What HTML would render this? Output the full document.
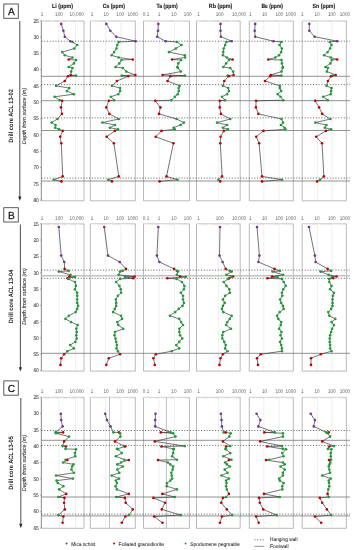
<!DOCTYPE html>
<html><head><meta charset="utf-8"><title>Drill core geochemistry</title>
<style>html,body{margin:0;padding:0;background:#fff;}body{width:355px;height:550px;overflow:hidden;}svg{display:block;text-rendering:geometricPrecision;}</style>
</head><body>
<svg width="355" height="550" viewBox="0 0 355 550" font-family="'Liberation Sans', Arial, sans-serif">
<rect width="355" height="550" fill="#fff"/>
<line x1="59" y1="20.9" x2="59" y2="200.8" stroke="#e4e4e4" stroke-width="0.6"/>
<line x1="75.6" y1="20.9" x2="75.6" y2="200.8" stroke="#e4e4e4" stroke-width="0.6"/>
<path d="M41.4,20.9 V200.8 H84 V20.9" fill="none" stroke="#a8a8a8" stroke-width="0.8"/>
<line x1="41.4" y1="20.9" x2="84" y2="20.9" stroke="#c0c0c0" stroke-width="0.7"/>
<path d="M43.96,20.9v1.1 M45.47,20.9v1.1 M46.53,20.9v1.1 M47.36,20.9v1.1 M48.03,20.9v1.1 M48.6,20.9v1.1 M49.09,20.9v1.1 M49.53,20.9v1.1 M52.48,20.9v1.1 M53.99,20.9v1.1 M55.05,20.9v1.1 M55.88,20.9v1.1 M56.55,20.9v1.1 M57.12,20.9v1.1 M57.61,20.9v1.1 M58.05,20.9v1.1 M61,20.9v1.1 M62.51,20.9v1.1 M63.57,20.9v1.1 M64.4,20.9v1.1 M65.07,20.9v1.1 M65.64,20.9v1.1 M66.13,20.9v1.1 M66.57,20.9v1.1 M69.52,20.9v1.1 M71.03,20.9v1.1 M72.09,20.9v1.1 M72.92,20.9v1.1 M73.59,20.9v1.1 M74.16,20.9v1.1 M74.65,20.9v1.1 M75.09,20.9v1.1 M78.04,20.9v1.1 M79.55,20.9v1.1 M80.61,20.9v1.1 M81.44,20.9v1.1 M82.11,20.9v1.1 M82.68,20.9v1.1 M83.17,20.9v1.1 M83.61,20.9v1.1" stroke="#c8c8c8" stroke-width="0.45" fill="none"/>
<line x1="105.6" y1="20.9" x2="105.6" y2="200.8" stroke="#e4e4e4" stroke-width="0.6"/>
<line x1="120.9" y1="20.9" x2="120.9" y2="200.8" stroke="#e4e4e4" stroke-width="0.6"/>
<path d="M90.3,20.9 V200.8 H135.3 V20.9" fill="none" stroke="#a8a8a8" stroke-width="0.8"/>
<line x1="90.3" y1="20.9" x2="135.3" y2="20.9" stroke="#c0c0c0" stroke-width="0.7"/>
<path d="M94.82,20.9v1.1 M97.46,20.9v1.1 M99.33,20.9v1.1 M100.78,20.9v1.1 M101.97,20.9v1.1 M102.98,20.9v1.1 M103.85,20.9v1.1 M104.61,20.9v1.1 M109.82,20.9v1.1 M112.46,20.9v1.1 M114.33,20.9v1.1 M115.78,20.9v1.1 M116.97,20.9v1.1 M117.98,20.9v1.1 M118.85,20.9v1.1 M119.61,20.9v1.1 M124.82,20.9v1.1 M127.46,20.9v1.1 M129.33,20.9v1.1 M130.78,20.9v1.1 M131.97,20.9v1.1 M132.98,20.9v1.1 M133.85,20.9v1.1 M134.61,20.9v1.1" stroke="#c8c8c8" stroke-width="0.45" fill="none"/>
<line x1="159" y1="20.9" x2="159" y2="200.8" stroke="#e4e4e4" stroke-width="0.6"/>
<line x1="174.4" y1="20.9" x2="174.4" y2="200.8" stroke="#e4e4e4" stroke-width="0.6"/>
<path d="M143.5,20.9 V200.8 H189.4 V20.9" fill="none" stroke="#a8a8a8" stroke-width="0.8"/>
<line x1="143.5" y1="20.9" x2="189.4" y2="20.9" stroke="#c0c0c0" stroke-width="0.7"/>
<path d="M148.11,20.9v1.1 M150.8,20.9v1.1 M152.71,20.9v1.1 M154.19,20.9v1.1 M155.41,20.9v1.1 M156.43,20.9v1.1 M157.32,20.9v1.1 M158.1,20.9v1.1 M163.41,20.9v1.1 M166.1,20.9v1.1 M168.01,20.9v1.1 M169.49,20.9v1.1 M170.71,20.9v1.1 M171.73,20.9v1.1 M172.62,20.9v1.1 M173.4,20.9v1.1 M178.71,20.9v1.1 M181.4,20.9v1.1 M183.31,20.9v1.1 M184.79,20.9v1.1 M186.01,20.9v1.1 M187.03,20.9v1.1 M187.92,20.9v1.1 M188.7,20.9v1.1" stroke="#c8c8c8" stroke-width="0.45" fill="none"/>
<line x1="218.4" y1="20.9" x2="218.4" y2="200.8" stroke="#e4e4e4" stroke-width="0.6"/>
<path d="M196.5,20.9 V200.8 H240.2 V20.9" fill="none" stroke="#a8a8a8" stroke-width="0.8"/>
<line x1="196.5" y1="20.9" x2="240.2" y2="20.9" stroke="#c0c0c0" stroke-width="0.7"/>
<path d="M199.79,20.9v1.1 M201.71,20.9v1.1 M203.08,20.9v1.1 M204.14,20.9v1.1 M205,20.9v1.1 M205.73,20.9v1.1 M206.37,20.9v1.1 M206.93,20.9v1.1 M210.71,20.9v1.1 M212.64,20.9v1.1 M214,20.9v1.1 M215.06,20.9v1.1 M215.93,20.9v1.1 M216.66,20.9v1.1 M217.29,20.9v1.1 M217.85,20.9v1.1 M221.64,20.9v1.1 M223.56,20.9v1.1 M224.93,20.9v1.1 M225.99,20.9v1.1 M226.85,20.9v1.1 M227.58,20.9v1.1 M228.22,20.9v1.1 M228.78,20.9v1.1 M232.56,20.9v1.1 M234.49,20.9v1.1 M235.85,20.9v1.1 M236.91,20.9v1.1 M237.78,20.9v1.1 M238.51,20.9v1.1 M239.14,20.9v1.1 M239.7,20.9v1.1" stroke="#c8c8c8" stroke-width="0.45" fill="none"/>
<line x1="263.8" y1="20.9" x2="263.8" y2="200.8" stroke="#e4e4e4" stroke-width="0.6"/>
<line x1="279.1" y1="20.9" x2="279.1" y2="200.8" stroke="#e4e4e4" stroke-width="0.6"/>
<path d="M249.3,20.9 V200.8 H293.3 V20.9" fill="none" stroke="#a8a8a8" stroke-width="0.8"/>
<line x1="249.3" y1="20.9" x2="293.3" y2="20.9" stroke="#c0c0c0" stroke-width="0.7"/>
<path d="M253.72,20.9v1.1 M256.3,20.9v1.1 M258.13,20.9v1.1 M259.55,20.9v1.1 M260.71,20.9v1.1 M261.69,20.9v1.1 M262.55,20.9v1.1 M263.3,20.9v1.1 M268.38,20.9v1.1 M270.96,20.9v1.1 M272.8,20.9v1.1 M274.22,20.9v1.1 M275.38,20.9v1.1 M276.36,20.9v1.1 M277.21,20.9v1.1 M277.96,20.9v1.1 M283.05,20.9v1.1 M285.63,20.9v1.1 M287.46,20.9v1.1 M288.88,20.9v1.1 M290.05,20.9v1.1 M291.03,20.9v1.1 M291.88,20.9v1.1 M292.63,20.9v1.1" stroke="#c8c8c8" stroke-width="0.45" fill="none"/>
<line x1="317.4" y1="20.9" x2="317.4" y2="200.8" stroke="#e4e4e4" stroke-width="0.6"/>
<line x1="331.9" y1="20.9" x2="331.9" y2="200.8" stroke="#e4e4e4" stroke-width="0.6"/>
<path d="M302.2,20.9 V200.8 H346.3 V20.9" fill="none" stroke="#a8a8a8" stroke-width="0.8"/>
<line x1="302.2" y1="20.9" x2="346.3" y2="20.9" stroke="#c0c0c0" stroke-width="0.7"/>
<path d="M306.63,20.9v1.1 M309.21,20.9v1.1 M311.05,20.9v1.1 M312.47,20.9v1.1 M313.64,20.9v1.1 M314.62,20.9v1.1 M315.48,20.9v1.1 M316.23,20.9v1.1 M321.33,20.9v1.1 M323.91,20.9v1.1 M325.75,20.9v1.1 M327.17,20.9v1.1 M328.34,20.9v1.1 M329.32,20.9v1.1 M330.18,20.9v1.1 M330.93,20.9v1.1 M336.03,20.9v1.1 M338.61,20.9v1.1 M340.45,20.9v1.1 M341.87,20.9v1.1 M343.04,20.9v1.1 M344.02,20.9v1.1 M344.88,20.9v1.1 M345.63,20.9v1.1" stroke="#c8c8c8" stroke-width="0.45" fill="none"/>
<line x1="41.4" y1="20.9" x2="41.4" y2="200.8" stroke="#8c8c8c" stroke-width="0.8"/>
<line x1="40.0" y1="20.6" x2="41.4" y2="20.6" stroke="#8c8c8c" stroke-width="0.6"/>
<text x="33.4" y="22.5" font-size="5.4" fill="#3a3a3a" stroke="#3a3a3a" stroke-width="0.08" textLength="5.4" lengthAdjust="spacingAndGlyphs">25</text>
<line x1="40.0" y1="36.92" x2="41.4" y2="36.92" stroke="#8c8c8c" stroke-width="0.6"/>
<text x="33.4" y="38.82" font-size="5.4" fill="#3a3a3a" stroke="#3a3a3a" stroke-width="0.08" textLength="5.4" lengthAdjust="spacingAndGlyphs">30</text>
<line x1="40.0" y1="53.24" x2="41.4" y2="53.24" stroke="#8c8c8c" stroke-width="0.6"/>
<text x="33.4" y="55.14" font-size="5.4" fill="#3a3a3a" stroke="#3a3a3a" stroke-width="0.08" textLength="5.4" lengthAdjust="spacingAndGlyphs">35</text>
<line x1="40.0" y1="69.56" x2="41.4" y2="69.56" stroke="#8c8c8c" stroke-width="0.6"/>
<text x="33.4" y="71.46" font-size="5.4" fill="#3a3a3a" stroke="#3a3a3a" stroke-width="0.08" textLength="5.4" lengthAdjust="spacingAndGlyphs">40</text>
<line x1="40.0" y1="85.88" x2="41.4" y2="85.88" stroke="#8c8c8c" stroke-width="0.6"/>
<text x="33.4" y="87.78" font-size="5.4" fill="#3a3a3a" stroke="#3a3a3a" stroke-width="0.08" textLength="5.4" lengthAdjust="spacingAndGlyphs">45</text>
<line x1="40.0" y1="102.2" x2="41.4" y2="102.2" stroke="#8c8c8c" stroke-width="0.6"/>
<text x="33.4" y="104.1" font-size="5.4" fill="#3a3a3a" stroke="#3a3a3a" stroke-width="0.08" textLength="5.4" lengthAdjust="spacingAndGlyphs">50</text>
<line x1="40.0" y1="118.52" x2="41.4" y2="118.52" stroke="#8c8c8c" stroke-width="0.6"/>
<text x="33.4" y="120.42" font-size="5.4" fill="#3a3a3a" stroke="#3a3a3a" stroke-width="0.08" textLength="5.4" lengthAdjust="spacingAndGlyphs">55</text>
<line x1="40.0" y1="134.84" x2="41.4" y2="134.84" stroke="#8c8c8c" stroke-width="0.6"/>
<text x="33.4" y="136.74" font-size="5.4" fill="#3a3a3a" stroke="#3a3a3a" stroke-width="0.08" textLength="5.4" lengthAdjust="spacingAndGlyphs">60</text>
<line x1="40.0" y1="151.16" x2="41.4" y2="151.16" stroke="#8c8c8c" stroke-width="0.6"/>
<text x="33.4" y="153.06" font-size="5.4" fill="#3a3a3a" stroke="#3a3a3a" stroke-width="0.08" textLength="5.4" lengthAdjust="spacingAndGlyphs">65</text>
<line x1="40.0" y1="167.48" x2="41.4" y2="167.48" stroke="#8c8c8c" stroke-width="0.6"/>
<text x="33.4" y="169.38" font-size="5.4" fill="#3a3a3a" stroke="#3a3a3a" stroke-width="0.08" textLength="5.4" lengthAdjust="spacingAndGlyphs">70</text>
<line x1="40.0" y1="183.8" x2="41.4" y2="183.8" stroke="#8c8c8c" stroke-width="0.6"/>
<text x="33.4" y="185.7" font-size="5.4" fill="#3a3a3a" stroke="#3a3a3a" stroke-width="0.08" textLength="5.4" lengthAdjust="spacingAndGlyphs">75</text>
<line x1="40.0" y1="200.12" x2="41.4" y2="200.12" stroke="#8c8c8c" stroke-width="0.6"/>
<text x="33.4" y="202.02" font-size="5.4" fill="#3a3a3a" stroke="#3a3a3a" stroke-width="0.08" textLength="5.4" lengthAdjust="spacingAndGlyphs">80</text>
<line x1="41.4" y1="41.2" x2="350" y2="41.2" stroke="#555" stroke-width="0.85" stroke-dasharray="1.1 1.7"/>
<line x1="41.4" y1="76.3" x2="350" y2="76.3" stroke="#767676" stroke-width="0.8"/>
<line x1="41.4" y1="84.6" x2="350" y2="84.6" stroke="#555" stroke-width="0.85" stroke-dasharray="1.1 1.7"/>
<line x1="41.4" y1="100.7" x2="350" y2="100.7" stroke="#767676" stroke-width="0.8"/>
<line x1="41.4" y1="117.9" x2="350" y2="117.9" stroke="#555" stroke-width="0.85" stroke-dasharray="1.1 1.7"/>
<line x1="41.4" y1="130.5" x2="350" y2="130.5" stroke="#767676" stroke-width="0.8"/>
<line x1="41.4" y1="178.1" x2="350" y2="178.1" stroke="#555" stroke-width="0.85" stroke-dasharray="1.1 1.7"/>
<line x1="41.4" y1="181" x2="350" y2="181" stroke="#767676" stroke-width="0.8"/>
<text x="40.7" y="16.3" font-size="5.3" fill="#666" textLength="2.6" lengthAdjust="spacingAndGlyphs">1</text>
<text x="55.1" y="16.3" font-size="5.3" fill="#666" textLength="7.8" lengthAdjust="spacingAndGlyphs">100</text>
<text x="69.58" y="16.3" font-size="5.3" fill="#666" textLength="14.25" lengthAdjust="spacingAndGlyphs">10,000</text>
<text x="52.1" y="8.4" font-size="6.1" font-weight="bold" fill="#1a1a1a" stroke="#1a1a1a" stroke-width="0.12" textLength="21" lengthAdjust="spacingAndGlyphs">Li (ppm)</text>
<text x="90.8" y="16.3" font-size="5.3" fill="#666" textLength="2.6" lengthAdjust="spacingAndGlyphs">1</text>
<text x="103.5" y="16.3" font-size="5.3" fill="#666" textLength="5.2" lengthAdjust="spacingAndGlyphs">10</text>
<text x="116.3" y="16.3" font-size="5.3" fill="#666" textLength="7.8" lengthAdjust="spacingAndGlyphs">100</text>
<text x="127.5" y="16.3" font-size="5.3" fill="#666" textLength="10.4" lengthAdjust="spacingAndGlyphs">1000</text>
<text x="102.7" y="8.4" font-size="6.1" font-weight="bold" fill="#1a1a1a" stroke="#1a1a1a" stroke-width="0.12" textLength="22.2" lengthAdjust="spacingAndGlyphs">Cs (ppm)</text>
<text x="142.78" y="16.3" font-size="5.3" fill="#666" textLength="6.45" lengthAdjust="spacingAndGlyphs">0.1</text>
<text x="157.7" y="16.3" font-size="5.3" fill="#666" textLength="2.6" lengthAdjust="spacingAndGlyphs">1</text>
<text x="171.3" y="16.3" font-size="5.3" fill="#666" textLength="5.2" lengthAdjust="spacingAndGlyphs">10</text>
<text x="183.8" y="16.3" font-size="5.3" fill="#666" textLength="7.8" lengthAdjust="spacingAndGlyphs">100</text>
<text x="156.6" y="8.4" font-size="6.1" font-weight="bold" fill="#1a1a1a" stroke="#1a1a1a" stroke-width="0.12" textLength="21" lengthAdjust="spacingAndGlyphs">Ta (ppm)</text>
<text x="197.2" y="16.3" font-size="5.3" fill="#666" textLength="2.6" lengthAdjust="spacingAndGlyphs">1</text>
<text x="215.7" y="16.3" font-size="5.3" fill="#666" textLength="7.8" lengthAdjust="spacingAndGlyphs">100</text>
<text x="231.88" y="16.3" font-size="5.3" fill="#666" textLength="14.25" lengthAdjust="spacingAndGlyphs">10,000</text>
<text x="208.8" y="8.4" font-size="6.1" font-weight="bold" fill="#1a1a1a" stroke="#1a1a1a" stroke-width="0.12" textLength="23.6" lengthAdjust="spacingAndGlyphs">Rb (ppm)</text>
<text x="249" y="16.3" font-size="5.3" fill="#666" textLength="2.6" lengthAdjust="spacingAndGlyphs">1</text>
<text x="262" y="16.3" font-size="5.3" fill="#666" textLength="5.2" lengthAdjust="spacingAndGlyphs">10</text>
<text x="275.4" y="16.3" font-size="5.3" fill="#666" textLength="7.8" lengthAdjust="spacingAndGlyphs">100</text>
<text x="285.6" y="16.3" font-size="5.3" fill="#666" textLength="10.4" lengthAdjust="spacingAndGlyphs">1000</text>
<text x="261.4" y="8.4" font-size="6.1" font-weight="bold" fill="#1a1a1a" stroke="#1a1a1a" stroke-width="0.12" textLength="21.6" lengthAdjust="spacingAndGlyphs">Be (ppm)</text>
<text x="301" y="16.3" font-size="5.3" fill="#666" textLength="2.6" lengthAdjust="spacingAndGlyphs">1</text>
<text x="314.5" y="16.3" font-size="5.3" fill="#666" textLength="5.2" lengthAdjust="spacingAndGlyphs">10</text>
<text x="327.9" y="16.3" font-size="5.3" fill="#666" textLength="7.8" lengthAdjust="spacingAndGlyphs">100</text>
<text x="339.7" y="16.3" font-size="5.3" fill="#666" textLength="10.4" lengthAdjust="spacingAndGlyphs">1000</text>
<text x="312.55" y="8.4" font-size="6.1" font-weight="bold" fill="#1a1a1a" stroke="#1a1a1a" stroke-width="0.12" textLength="22.7" lengthAdjust="spacingAndGlyphs">Sn (ppm)</text>
<polyline points="61.2,23.9 63.4,30.7 64.8,36.7 70.4,41.2 72.5,42 77.2,45 74.3,48.5 62.2,52.1 64.8,55.3 72.5,57.5 68.7,59.5 76,60 73.9,63.4 68.7,67 72.5,68 71.1,71.6 70.7,75 76,75.6 67.9,76.2 64.8,81 56,85.8 69.3,88.1 66.9,91.1 73.9,94.2 54.6,96.8 59.8,100.2 62.2,100.8 61,107.4 61.9,113.9 57.4,119 51.6,122.6 55.6,125 55.2,127.7 59,129.3 62.7,130.9 60.2,136.8 61.3,143.3 62.7,176.4 53.7,179.7 61.5,181.4" fill="none" stroke="#383838" stroke-width="0.7"/>
<circle cx="61.2" cy="23.9" r="1.3" fill="#7030a0"/>
<circle cx="63.4" cy="30.7" r="1.3" fill="#7030a0"/>
<circle cx="64.8" cy="36.7" r="1.3" fill="#7030a0"/>
<circle cx="70.4" cy="41.2" r="1.3" fill="#7030a0"/>
<circle cx="72.5" cy="42" r="1.3" fill="#1d9b36"/>
<circle cx="77.2" cy="45" r="1.3" fill="#1d9b36"/>
<circle cx="74.3" cy="48.5" r="1.3" fill="#1d9b36"/>
<circle cx="62.2" cy="52.1" r="1.3" fill="#1d9b36"/>
<circle cx="64.8" cy="55.3" r="1.3" fill="#1d9b36"/>
<circle cx="72.5" cy="57.5" r="1.3" fill="#1d9b36"/>
<circle cx="68.7" cy="59.5" r="1.3" fill="#c00000"/>
<circle cx="76" cy="60" r="1.3" fill="#1d9b36"/>
<circle cx="73.9" cy="63.4" r="1.3" fill="#1d9b36"/>
<circle cx="68.7" cy="67" r="1.3" fill="#1d9b36"/>
<circle cx="72.5" cy="68" r="1.3" fill="#1d9b36"/>
<circle cx="71.1" cy="71.6" r="1.3" fill="#1d9b36"/>
<circle cx="70.7" cy="75" r="1.3" fill="#c00000"/>
<circle cx="76" cy="75.6" r="1.3" fill="#1d9b36"/>
<circle cx="67.9" cy="76.2" r="1.3" fill="#c00000"/>
<circle cx="64.8" cy="81" r="1.3" fill="#c00000"/>
<circle cx="56" cy="85.8" r="1.3" fill="#1d9b36"/>
<circle cx="69.3" cy="88.1" r="1.3" fill="#1d9b36"/>
<circle cx="66.9" cy="91.1" r="1.3" fill="#1d9b36"/>
<circle cx="73.9" cy="94.2" r="1.3" fill="#1d9b36"/>
<circle cx="54.6" cy="96.8" r="1.3" fill="#1d9b36"/>
<circle cx="59.8" cy="100.2" r="1.3" fill="#1d9b36"/>
<circle cx="62.2" cy="100.8" r="1.3" fill="#c00000"/>
<circle cx="61" cy="107.4" r="1.3" fill="#c00000"/>
<circle cx="61.9" cy="113.9" r="1.3" fill="#c00000"/>
<circle cx="57.4" cy="119" r="1.3" fill="#1d9b36"/>
<circle cx="51.6" cy="122.6" r="1.3" fill="#1d9b36"/>
<circle cx="55.6" cy="125" r="1.3" fill="#1d9b36"/>
<circle cx="55.2" cy="127.7" r="1.3" fill="#1d9b36"/>
<circle cx="59" cy="129.3" r="1.3" fill="#1d9b36"/>
<circle cx="62.7" cy="130.9" r="1.3" fill="#c00000"/>
<circle cx="60.2" cy="136.8" r="1.3" fill="#c00000"/>
<circle cx="61.3" cy="143.3" r="1.3" fill="#c00000"/>
<circle cx="62.7" cy="176.4" r="1.3" fill="#c00000"/>
<circle cx="53.7" cy="179.7" r="1.3" fill="#1d9b36"/>
<circle cx="61.5" cy="181.4" r="1.3" fill="#c00000"/>
<polyline points="106.3,23.9 110.3,30.7 116.2,36.7 135.6,41.2 118.7,42 117.3,45 116.5,48.5 114.1,52.1 111.7,55.3 118.7,57.5 132.8,59.5 121.5,60 119.3,63.4 115.5,67 122.9,68 126.3,71.6 135.4,75 121.8,75.6 128.3,76.2 116.9,81 111.9,85.8 120.1,88.1 120.1,91.1 118.3,94.2 110.8,96.8 114.1,100.2 108.8,100.8 106.3,107.4 109.4,113.9 118.7,119 102.4,122.6 115,125 109.9,127.7 117.9,129.3 114.9,130.9 106.6,136.8 113.9,143.3 118.8,176.4 108.3,179.7 112,181.4" fill="none" stroke="#383838" stroke-width="0.7"/>
<circle cx="106.3" cy="23.9" r="1.3" fill="#7030a0"/>
<circle cx="110.3" cy="30.7" r="1.3" fill="#7030a0"/>
<circle cx="116.2" cy="36.7" r="1.3" fill="#7030a0"/>
<circle cx="135.6" cy="41.2" r="1.3" fill="#7030a0"/>
<circle cx="118.7" cy="42" r="1.3" fill="#1d9b36"/>
<circle cx="117.3" cy="45" r="1.3" fill="#1d9b36"/>
<circle cx="116.5" cy="48.5" r="1.3" fill="#1d9b36"/>
<circle cx="114.1" cy="52.1" r="1.3" fill="#1d9b36"/>
<circle cx="111.7" cy="55.3" r="1.3" fill="#1d9b36"/>
<circle cx="118.7" cy="57.5" r="1.3" fill="#1d9b36"/>
<circle cx="132.8" cy="59.5" r="1.3" fill="#c00000"/>
<circle cx="121.5" cy="60" r="1.3" fill="#1d9b36"/>
<circle cx="119.3" cy="63.4" r="1.3" fill="#1d9b36"/>
<circle cx="115.5" cy="67" r="1.3" fill="#1d9b36"/>
<circle cx="122.9" cy="68" r="1.3" fill="#1d9b36"/>
<circle cx="126.3" cy="71.6" r="1.3" fill="#1d9b36"/>
<circle cx="135.4" cy="75" r="1.3" fill="#c00000"/>
<circle cx="121.8" cy="75.6" r="1.3" fill="#1d9b36"/>
<circle cx="128.3" cy="76.2" r="1.3" fill="#c00000"/>
<circle cx="116.9" cy="81" r="1.3" fill="#c00000"/>
<circle cx="111.9" cy="85.8" r="1.3" fill="#1d9b36"/>
<circle cx="120.1" cy="88.1" r="1.3" fill="#1d9b36"/>
<circle cx="120.1" cy="91.1" r="1.3" fill="#1d9b36"/>
<circle cx="118.3" cy="94.2" r="1.3" fill="#1d9b36"/>
<circle cx="110.8" cy="96.8" r="1.3" fill="#1d9b36"/>
<circle cx="114.1" cy="100.2" r="1.3" fill="#1d9b36"/>
<circle cx="108.8" cy="100.8" r="1.3" fill="#c00000"/>
<circle cx="106.3" cy="107.4" r="1.3" fill="#c00000"/>
<circle cx="109.4" cy="113.9" r="1.3" fill="#c00000"/>
<circle cx="118.7" cy="119" r="1.3" fill="#1d9b36"/>
<circle cx="102.4" cy="122.6" r="1.3" fill="#1d9b36"/>
<circle cx="115" cy="125" r="1.3" fill="#1d9b36"/>
<circle cx="109.9" cy="127.7" r="1.3" fill="#1d9b36"/>
<circle cx="117.9" cy="129.3" r="1.3" fill="#1d9b36"/>
<circle cx="114.9" cy="130.9" r="1.3" fill="#c00000"/>
<circle cx="106.6" cy="136.8" r="1.3" fill="#c00000"/>
<circle cx="113.9" cy="143.3" r="1.3" fill="#c00000"/>
<circle cx="118.8" cy="176.4" r="1.3" fill="#c00000"/>
<circle cx="108.3" cy="179.7" r="1.3" fill="#1d9b36"/>
<circle cx="112" cy="181.4" r="1.3" fill="#c00000"/>
<polyline points="158.3,23.9 158,30.7 157.2,36.7 165.6,41.2 176.9,42 181.5,45 175.9,48.5 168.9,52.1 184.8,55.3 185.1,57.5 172.1,59.5 181.1,60 178.3,63.4 177.3,67 178,68 180.8,71.6 162.6,75 184.8,75.6 170.3,76.2 167.5,81 179.7,85.8 178.7,88.1 178.7,91.1 177.7,94.2 174.9,96.8 171.3,100.2 155.2,100.8 160.4,107.4 159,113.9 176.6,119 183.9,122.6 180.5,125 173.6,127.7 174.7,129.3 161.5,130.9 155.7,136.8 173.4,143.3 166.5,176.4 177.5,179.7 159.6,181.4" fill="none" stroke="#383838" stroke-width="0.7"/>
<circle cx="158.3" cy="23.9" r="1.3" fill="#7030a0"/>
<circle cx="158" cy="30.7" r="1.3" fill="#7030a0"/>
<circle cx="157.2" cy="36.7" r="1.3" fill="#7030a0"/>
<circle cx="165.6" cy="41.2" r="1.3" fill="#7030a0"/>
<circle cx="176.9" cy="42" r="1.3" fill="#1d9b36"/>
<circle cx="181.5" cy="45" r="1.3" fill="#1d9b36"/>
<circle cx="175.9" cy="48.5" r="1.3" fill="#1d9b36"/>
<circle cx="168.9" cy="52.1" r="1.3" fill="#1d9b36"/>
<circle cx="184.8" cy="55.3" r="1.3" fill="#1d9b36"/>
<circle cx="185.1" cy="57.5" r="1.3" fill="#1d9b36"/>
<circle cx="172.1" cy="59.5" r="1.3" fill="#c00000"/>
<circle cx="181.1" cy="60" r="1.3" fill="#1d9b36"/>
<circle cx="178.3" cy="63.4" r="1.3" fill="#1d9b36"/>
<circle cx="177.3" cy="67" r="1.3" fill="#1d9b36"/>
<circle cx="178" cy="68" r="1.3" fill="#1d9b36"/>
<circle cx="180.8" cy="71.6" r="1.3" fill="#1d9b36"/>
<circle cx="162.6" cy="75" r="1.3" fill="#c00000"/>
<circle cx="184.8" cy="75.6" r="1.3" fill="#1d9b36"/>
<circle cx="170.3" cy="76.2" r="1.3" fill="#c00000"/>
<circle cx="167.5" cy="81" r="1.3" fill="#c00000"/>
<circle cx="179.7" cy="85.8" r="1.3" fill="#1d9b36"/>
<circle cx="178.7" cy="88.1" r="1.3" fill="#1d9b36"/>
<circle cx="178.7" cy="91.1" r="1.3" fill="#1d9b36"/>
<circle cx="177.7" cy="94.2" r="1.3" fill="#1d9b36"/>
<circle cx="174.9" cy="96.8" r="1.3" fill="#1d9b36"/>
<circle cx="171.3" cy="100.2" r="1.3" fill="#1d9b36"/>
<circle cx="155.2" cy="100.8" r="1.3" fill="#c00000"/>
<circle cx="160.4" cy="107.4" r="1.3" fill="#c00000"/>
<circle cx="159" cy="113.9" r="1.3" fill="#c00000"/>
<circle cx="176.6" cy="119" r="1.3" fill="#1d9b36"/>
<circle cx="183.9" cy="122.6" r="1.3" fill="#1d9b36"/>
<circle cx="180.5" cy="125" r="1.3" fill="#1d9b36"/>
<circle cx="173.6" cy="127.7" r="1.3" fill="#1d9b36"/>
<circle cx="174.7" cy="129.3" r="1.3" fill="#1d9b36"/>
<circle cx="161.5" cy="130.9" r="1.3" fill="#c00000"/>
<circle cx="155.7" cy="136.8" r="1.3" fill="#c00000"/>
<circle cx="173.4" cy="143.3" r="1.3" fill="#c00000"/>
<circle cx="166.5" cy="176.4" r="1.3" fill="#c00000"/>
<circle cx="177.5" cy="179.7" r="1.3" fill="#1d9b36"/>
<circle cx="159.6" cy="181.4" r="1.3" fill="#c00000"/>
<polyline points="220.5,23.9 220.5,30.7 220.9,36.7 231.7,41.2 226.5,42 225.1,45 223.7,48.5 223.3,52.1 222.9,55.3 226.8,57.5 232.7,59.5 228.9,60 226.1,63.4 223.3,67 230.3,68 233.1,71.6 233.6,75 227.7,75.6 228.9,76.2 224.3,81 222.9,85.8 228.2,88.1 228.9,91.1 227.1,94.2 221.9,96.8 225.1,100.2 219.8,100.8 219.8,107.4 220.9,113.9 230.3,119 217.1,122.6 227.1,125 222.9,127.7 227.9,129.3 223.8,130.9 220.6,136.8 220.3,143.3 222.1,176.4 218.4,179.7 220.3,181.4" fill="none" stroke="#383838" stroke-width="0.7"/>
<circle cx="220.5" cy="23.9" r="1.3" fill="#7030a0"/>
<circle cx="220.5" cy="30.7" r="1.3" fill="#7030a0"/>
<circle cx="220.9" cy="36.7" r="1.3" fill="#7030a0"/>
<circle cx="231.7" cy="41.2" r="1.3" fill="#7030a0"/>
<circle cx="226.5" cy="42" r="1.3" fill="#1d9b36"/>
<circle cx="225.1" cy="45" r="1.3" fill="#1d9b36"/>
<circle cx="223.7" cy="48.5" r="1.3" fill="#1d9b36"/>
<circle cx="223.3" cy="52.1" r="1.3" fill="#1d9b36"/>
<circle cx="222.9" cy="55.3" r="1.3" fill="#1d9b36"/>
<circle cx="226.8" cy="57.5" r="1.3" fill="#1d9b36"/>
<circle cx="232.7" cy="59.5" r="1.3" fill="#c00000"/>
<circle cx="228.9" cy="60" r="1.3" fill="#1d9b36"/>
<circle cx="226.1" cy="63.4" r="1.3" fill="#1d9b36"/>
<circle cx="223.3" cy="67" r="1.3" fill="#1d9b36"/>
<circle cx="230.3" cy="68" r="1.3" fill="#1d9b36"/>
<circle cx="233.1" cy="71.6" r="1.3" fill="#1d9b36"/>
<circle cx="233.6" cy="75" r="1.3" fill="#c00000"/>
<circle cx="227.7" cy="75.6" r="1.3" fill="#1d9b36"/>
<circle cx="228.9" cy="76.2" r="1.3" fill="#c00000"/>
<circle cx="224.3" cy="81" r="1.3" fill="#c00000"/>
<circle cx="222.9" cy="85.8" r="1.3" fill="#1d9b36"/>
<circle cx="228.2" cy="88.1" r="1.3" fill="#1d9b36"/>
<circle cx="228.9" cy="91.1" r="1.3" fill="#1d9b36"/>
<circle cx="227.1" cy="94.2" r="1.3" fill="#1d9b36"/>
<circle cx="221.9" cy="96.8" r="1.3" fill="#1d9b36"/>
<circle cx="225.1" cy="100.2" r="1.3" fill="#1d9b36"/>
<circle cx="219.8" cy="100.8" r="1.3" fill="#c00000"/>
<circle cx="219.8" cy="107.4" r="1.3" fill="#c00000"/>
<circle cx="220.9" cy="113.9" r="1.3" fill="#c00000"/>
<circle cx="230.3" cy="119" r="1.3" fill="#1d9b36"/>
<circle cx="217.1" cy="122.6" r="1.3" fill="#1d9b36"/>
<circle cx="227.1" cy="125" r="1.3" fill="#1d9b36"/>
<circle cx="222.9" cy="127.7" r="1.3" fill="#1d9b36"/>
<circle cx="227.9" cy="129.3" r="1.3" fill="#1d9b36"/>
<circle cx="223.8" cy="130.9" r="1.3" fill="#c00000"/>
<circle cx="220.6" cy="136.8" r="1.3" fill="#c00000"/>
<circle cx="220.3" cy="143.3" r="1.3" fill="#c00000"/>
<circle cx="222.1" cy="176.4" r="1.3" fill="#c00000"/>
<circle cx="218.4" cy="179.7" r="1.3" fill="#1d9b36"/>
<circle cx="220.3" cy="181.4" r="1.3" fill="#c00000"/>
<polyline points="255.2,23.9 254.7,30.7 255.2,36.7 273.5,41.2 281.5,42 279.5,45 281.9,48.5 281.2,52.1 279.1,55.3 275.3,57.5 268.3,59.5 281.5,60 281.9,63.4 282.9,67 282.6,68 281.5,71.6 270.8,75 281.4,75.6 270.2,76.2 265,81 279.8,85.8 279.8,88.1 281.2,91.1 277.7,94.2 280.5,96.8 283.3,100.2 256.1,100.8 255.9,107.4 258.4,113.9 281.5,119 283,122.6 281,125 284.6,127.7 285.3,129.3 263.4,130.9 256.2,136.8 259.1,143.3 262,176.4 282,179.7 262,181.4" fill="none" stroke="#383838" stroke-width="0.7"/>
<circle cx="255.2" cy="23.9" r="1.3" fill="#7030a0"/>
<circle cx="254.7" cy="30.7" r="1.3" fill="#7030a0"/>
<circle cx="255.2" cy="36.7" r="1.3" fill="#7030a0"/>
<circle cx="273.5" cy="41.2" r="1.3" fill="#7030a0"/>
<circle cx="281.5" cy="42" r="1.3" fill="#1d9b36"/>
<circle cx="279.5" cy="45" r="1.3" fill="#1d9b36"/>
<circle cx="281.9" cy="48.5" r="1.3" fill="#1d9b36"/>
<circle cx="281.2" cy="52.1" r="1.3" fill="#1d9b36"/>
<circle cx="279.1" cy="55.3" r="1.3" fill="#1d9b36"/>
<circle cx="275.3" cy="57.5" r="1.3" fill="#1d9b36"/>
<circle cx="268.3" cy="59.5" r="1.3" fill="#c00000"/>
<circle cx="281.5" cy="60" r="1.3" fill="#1d9b36"/>
<circle cx="281.9" cy="63.4" r="1.3" fill="#1d9b36"/>
<circle cx="282.9" cy="67" r="1.3" fill="#1d9b36"/>
<circle cx="282.6" cy="68" r="1.3" fill="#1d9b36"/>
<circle cx="281.5" cy="71.6" r="1.3" fill="#1d9b36"/>
<circle cx="270.8" cy="75" r="1.3" fill="#c00000"/>
<circle cx="281.4" cy="75.6" r="1.3" fill="#1d9b36"/>
<circle cx="270.2" cy="76.2" r="1.3" fill="#c00000"/>
<circle cx="265" cy="81" r="1.3" fill="#c00000"/>
<circle cx="279.8" cy="85.8" r="1.3" fill="#1d9b36"/>
<circle cx="279.8" cy="88.1" r="1.3" fill="#1d9b36"/>
<circle cx="281.2" cy="91.1" r="1.3" fill="#1d9b36"/>
<circle cx="277.7" cy="94.2" r="1.3" fill="#1d9b36"/>
<circle cx="280.5" cy="96.8" r="1.3" fill="#1d9b36"/>
<circle cx="283.3" cy="100.2" r="1.3" fill="#1d9b36"/>
<circle cx="256.1" cy="100.8" r="1.3" fill="#c00000"/>
<circle cx="255.9" cy="107.4" r="1.3" fill="#c00000"/>
<circle cx="258.4" cy="113.9" r="1.3" fill="#c00000"/>
<circle cx="281.5" cy="119" r="1.3" fill="#1d9b36"/>
<circle cx="283" cy="122.6" r="1.3" fill="#1d9b36"/>
<circle cx="281" cy="125" r="1.3" fill="#1d9b36"/>
<circle cx="284.6" cy="127.7" r="1.3" fill="#1d9b36"/>
<circle cx="285.3" cy="129.3" r="1.3" fill="#1d9b36"/>
<circle cx="263.4" cy="130.9" r="1.3" fill="#c00000"/>
<circle cx="256.2" cy="136.8" r="1.3" fill="#c00000"/>
<circle cx="259.1" cy="143.3" r="1.3" fill="#c00000"/>
<circle cx="262" cy="176.4" r="1.3" fill="#c00000"/>
<circle cx="282" cy="179.7" r="1.3" fill="#1d9b36"/>
<circle cx="262" cy="181.4" r="1.3" fill="#c00000"/>
<polyline points="309.3,23.9 309.3,30.7 314.6,36.7 337.2,41.2 329.7,42 331.5,45 330.1,48.5 327.6,52.1 324.1,55.3 330.7,57.5 337.2,59.5 331.8,60 330.4,63.4 325.5,67 327.9,68 326.9,71.6 335.7,75 333.2,75.6 331.1,76.2 327.9,81 326.5,85.8 331.5,88.1 331.1,91.1 330.7,94.2 323.1,96.8 327.9,100.2 315.2,100.8 319.1,107.4 322.2,113.9 330.4,119 315.3,122.6 326.4,125 324.8,127.7 331.1,129.3 325.9,130.9 316.2,136.8 322,143.3 323.9,176.4 320.1,179.7 317.2,181.4" fill="none" stroke="#383838" stroke-width="0.7"/>
<circle cx="309.3" cy="23.9" r="1.3" fill="#7030a0"/>
<circle cx="309.3" cy="30.7" r="1.3" fill="#7030a0"/>
<circle cx="314.6" cy="36.7" r="1.3" fill="#7030a0"/>
<circle cx="337.2" cy="41.2" r="1.3" fill="#7030a0"/>
<circle cx="329.7" cy="42" r="1.3" fill="#1d9b36"/>
<circle cx="331.5" cy="45" r="1.3" fill="#1d9b36"/>
<circle cx="330.1" cy="48.5" r="1.3" fill="#1d9b36"/>
<circle cx="327.6" cy="52.1" r="1.3" fill="#1d9b36"/>
<circle cx="324.1" cy="55.3" r="1.3" fill="#1d9b36"/>
<circle cx="330.7" cy="57.5" r="1.3" fill="#1d9b36"/>
<circle cx="337.2" cy="59.5" r="1.3" fill="#c00000"/>
<circle cx="331.8" cy="60" r="1.3" fill="#1d9b36"/>
<circle cx="330.4" cy="63.4" r="1.3" fill="#1d9b36"/>
<circle cx="325.5" cy="67" r="1.3" fill="#1d9b36"/>
<circle cx="327.9" cy="68" r="1.3" fill="#1d9b36"/>
<circle cx="326.9" cy="71.6" r="1.3" fill="#1d9b36"/>
<circle cx="335.7" cy="75" r="1.3" fill="#c00000"/>
<circle cx="333.2" cy="75.6" r="1.3" fill="#1d9b36"/>
<circle cx="331.1" cy="76.2" r="1.3" fill="#c00000"/>
<circle cx="327.9" cy="81" r="1.3" fill="#c00000"/>
<circle cx="326.5" cy="85.8" r="1.3" fill="#1d9b36"/>
<circle cx="331.5" cy="88.1" r="1.3" fill="#1d9b36"/>
<circle cx="331.1" cy="91.1" r="1.3" fill="#1d9b36"/>
<circle cx="330.7" cy="94.2" r="1.3" fill="#1d9b36"/>
<circle cx="323.1" cy="96.8" r="1.3" fill="#1d9b36"/>
<circle cx="327.9" cy="100.2" r="1.3" fill="#1d9b36"/>
<circle cx="315.2" cy="100.8" r="1.3" fill="#c00000"/>
<circle cx="319.1" cy="107.4" r="1.3" fill="#c00000"/>
<circle cx="322.2" cy="113.9" r="1.3" fill="#c00000"/>
<circle cx="330.4" cy="119" r="1.3" fill="#1d9b36"/>
<circle cx="315.3" cy="122.6" r="1.3" fill="#1d9b36"/>
<circle cx="326.4" cy="125" r="1.3" fill="#1d9b36"/>
<circle cx="324.8" cy="127.7" r="1.3" fill="#1d9b36"/>
<circle cx="331.1" cy="129.3" r="1.3" fill="#1d9b36"/>
<circle cx="325.9" cy="130.9" r="1.3" fill="#c00000"/>
<circle cx="316.2" cy="136.8" r="1.3" fill="#c00000"/>
<circle cx="322" cy="143.3" r="1.3" fill="#c00000"/>
<circle cx="323.9" cy="176.4" r="1.3" fill="#c00000"/>
<circle cx="320.1" cy="179.7" r="1.3" fill="#1d9b36"/>
<circle cx="317.2" cy="181.4" r="1.3" fill="#c00000"/>
<rect x="3.8" y="4" width="14.5" height="14.3" fill="#fff" stroke="#4a4a4a" stroke-width="0.9"/>
<text x="11.35" y="14.8" font-size="10.2" fill="#1a1a1a" stroke="#1a1a1a" stroke-width="0.25" text-anchor="middle">A</text>
<line x1="19.8" y1="21" x2="19.8" y2="198" stroke="#3a3a3a" stroke-width="0.9"/>
<path d="M18.2,196.6 L21.4,196.6 L19.8,201 Z" fill="#262626"/>
<text transform="translate(13.2,116) rotate(-90)" x="-26.8" font-size="6.3" font-weight="bold" fill="#1a1a1a" textLength="53.6" lengthAdjust="spacingAndGlyphs">Drill core ACL 13-02</text>
<text transform="translate(25.5,116) rotate(-90)" font-size="5.5" font-style="italic" fill="#333" stroke="#333" stroke-width="0.1" text-anchor="middle">Depth from surface (m)</text>
<line x1="59" y1="223.7" x2="59" y2="371.1" stroke="#e4e4e4" stroke-width="0.6"/>
<line x1="75.6" y1="223.7" x2="75.6" y2="371.1" stroke="#e4e4e4" stroke-width="0.6"/>
<path d="M41.4,223.7 V371.1 H84 V223.7" fill="none" stroke="#a8a8a8" stroke-width="0.8"/>
<line x1="41.4" y1="223.7" x2="84" y2="223.7" stroke="#c0c0c0" stroke-width="0.7"/>
<path d="M43.96,223.7v1.1 M45.47,223.7v1.1 M46.53,223.7v1.1 M47.36,223.7v1.1 M48.03,223.7v1.1 M48.6,223.7v1.1 M49.09,223.7v1.1 M49.53,223.7v1.1 M52.48,223.7v1.1 M53.99,223.7v1.1 M55.05,223.7v1.1 M55.88,223.7v1.1 M56.55,223.7v1.1 M57.12,223.7v1.1 M57.61,223.7v1.1 M58.05,223.7v1.1 M61,223.7v1.1 M62.51,223.7v1.1 M63.57,223.7v1.1 M64.4,223.7v1.1 M65.07,223.7v1.1 M65.64,223.7v1.1 M66.13,223.7v1.1 M66.57,223.7v1.1 M69.52,223.7v1.1 M71.03,223.7v1.1 M72.09,223.7v1.1 M72.92,223.7v1.1 M73.59,223.7v1.1 M74.16,223.7v1.1 M74.65,223.7v1.1 M75.09,223.7v1.1 M78.04,223.7v1.1 M79.55,223.7v1.1 M80.61,223.7v1.1 M81.44,223.7v1.1 M82.11,223.7v1.1 M82.68,223.7v1.1 M83.17,223.7v1.1 M83.61,223.7v1.1" stroke="#c8c8c8" stroke-width="0.45" fill="none"/>
<line x1="105.6" y1="223.7" x2="105.6" y2="371.1" stroke="#e4e4e4" stroke-width="0.6"/>
<line x1="120.9" y1="223.7" x2="120.9" y2="371.1" stroke="#e4e4e4" stroke-width="0.6"/>
<path d="M90.3,223.7 V371.1 H135.3 V223.7" fill="none" stroke="#a8a8a8" stroke-width="0.8"/>
<line x1="90.3" y1="223.7" x2="135.3" y2="223.7" stroke="#c0c0c0" stroke-width="0.7"/>
<path d="M94.82,223.7v1.1 M97.46,223.7v1.1 M99.33,223.7v1.1 M100.78,223.7v1.1 M101.97,223.7v1.1 M102.98,223.7v1.1 M103.85,223.7v1.1 M104.61,223.7v1.1 M109.82,223.7v1.1 M112.46,223.7v1.1 M114.33,223.7v1.1 M115.78,223.7v1.1 M116.97,223.7v1.1 M117.98,223.7v1.1 M118.85,223.7v1.1 M119.61,223.7v1.1 M124.82,223.7v1.1 M127.46,223.7v1.1 M129.33,223.7v1.1 M130.78,223.7v1.1 M131.97,223.7v1.1 M132.98,223.7v1.1 M133.85,223.7v1.1 M134.61,223.7v1.1" stroke="#c8c8c8" stroke-width="0.45" fill="none"/>
<line x1="159" y1="223.7" x2="159" y2="371.1" stroke="#e4e4e4" stroke-width="0.6"/>
<line x1="174.4" y1="223.7" x2="174.4" y2="371.1" stroke="#e4e4e4" stroke-width="0.6"/>
<path d="M143.5,223.7 V371.1 H189.4 V223.7" fill="none" stroke="#a8a8a8" stroke-width="0.8"/>
<line x1="143.5" y1="223.7" x2="189.4" y2="223.7" stroke="#c0c0c0" stroke-width="0.7"/>
<path d="M148.11,223.7v1.1 M150.8,223.7v1.1 M152.71,223.7v1.1 M154.19,223.7v1.1 M155.41,223.7v1.1 M156.43,223.7v1.1 M157.32,223.7v1.1 M158.1,223.7v1.1 M163.41,223.7v1.1 M166.1,223.7v1.1 M168.01,223.7v1.1 M169.49,223.7v1.1 M170.71,223.7v1.1 M171.73,223.7v1.1 M172.62,223.7v1.1 M173.4,223.7v1.1 M178.71,223.7v1.1 M181.4,223.7v1.1 M183.31,223.7v1.1 M184.79,223.7v1.1 M186.01,223.7v1.1 M187.03,223.7v1.1 M187.92,223.7v1.1 M188.7,223.7v1.1" stroke="#c8c8c8" stroke-width="0.45" fill="none"/>
<line x1="218.4" y1="223.7" x2="218.4" y2="371.1" stroke="#e4e4e4" stroke-width="0.6"/>
<path d="M196.5,223.7 V371.1 H240.2 V223.7" fill="none" stroke="#a8a8a8" stroke-width="0.8"/>
<line x1="196.5" y1="223.7" x2="240.2" y2="223.7" stroke="#c0c0c0" stroke-width="0.7"/>
<path d="M199.79,223.7v1.1 M201.71,223.7v1.1 M203.08,223.7v1.1 M204.14,223.7v1.1 M205,223.7v1.1 M205.73,223.7v1.1 M206.37,223.7v1.1 M206.93,223.7v1.1 M210.71,223.7v1.1 M212.64,223.7v1.1 M214,223.7v1.1 M215.06,223.7v1.1 M215.93,223.7v1.1 M216.66,223.7v1.1 M217.29,223.7v1.1 M217.85,223.7v1.1 M221.64,223.7v1.1 M223.56,223.7v1.1 M224.93,223.7v1.1 M225.99,223.7v1.1 M226.85,223.7v1.1 M227.58,223.7v1.1 M228.22,223.7v1.1 M228.78,223.7v1.1 M232.56,223.7v1.1 M234.49,223.7v1.1 M235.85,223.7v1.1 M236.91,223.7v1.1 M237.78,223.7v1.1 M238.51,223.7v1.1 M239.14,223.7v1.1 M239.7,223.7v1.1" stroke="#c8c8c8" stroke-width="0.45" fill="none"/>
<line x1="263.8" y1="223.7" x2="263.8" y2="371.1" stroke="#e4e4e4" stroke-width="0.6"/>
<line x1="279.1" y1="223.7" x2="279.1" y2="371.1" stroke="#e4e4e4" stroke-width="0.6"/>
<path d="M249.3,223.7 V371.1 H293.3 V223.7" fill="none" stroke="#a8a8a8" stroke-width="0.8"/>
<line x1="249.3" y1="223.7" x2="293.3" y2="223.7" stroke="#c0c0c0" stroke-width="0.7"/>
<path d="M253.72,223.7v1.1 M256.3,223.7v1.1 M258.13,223.7v1.1 M259.55,223.7v1.1 M260.71,223.7v1.1 M261.69,223.7v1.1 M262.55,223.7v1.1 M263.3,223.7v1.1 M268.38,223.7v1.1 M270.96,223.7v1.1 M272.8,223.7v1.1 M274.22,223.7v1.1 M275.38,223.7v1.1 M276.36,223.7v1.1 M277.21,223.7v1.1 M277.96,223.7v1.1 M283.05,223.7v1.1 M285.63,223.7v1.1 M287.46,223.7v1.1 M288.88,223.7v1.1 M290.05,223.7v1.1 M291.03,223.7v1.1 M291.88,223.7v1.1 M292.63,223.7v1.1" stroke="#c8c8c8" stroke-width="0.45" fill="none"/>
<line x1="317.4" y1="223.7" x2="317.4" y2="371.1" stroke="#e4e4e4" stroke-width="0.6"/>
<line x1="331.9" y1="223.7" x2="331.9" y2="371.1" stroke="#e4e4e4" stroke-width="0.6"/>
<path d="M302.2,223.7 V371.1 H346.3 V223.7" fill="none" stroke="#a8a8a8" stroke-width="0.8"/>
<line x1="302.2" y1="223.7" x2="346.3" y2="223.7" stroke="#c0c0c0" stroke-width="0.7"/>
<path d="M306.63,223.7v1.1 M309.21,223.7v1.1 M311.05,223.7v1.1 M312.47,223.7v1.1 M313.64,223.7v1.1 M314.62,223.7v1.1 M315.48,223.7v1.1 M316.23,223.7v1.1 M321.33,223.7v1.1 M323.91,223.7v1.1 M325.75,223.7v1.1 M327.17,223.7v1.1 M328.34,223.7v1.1 M329.32,223.7v1.1 M330.18,223.7v1.1 M330.93,223.7v1.1 M336.03,223.7v1.1 M338.61,223.7v1.1 M340.45,223.7v1.1 M341.87,223.7v1.1 M343.04,223.7v1.1 M344.02,223.7v1.1 M344.88,223.7v1.1 M345.63,223.7v1.1" stroke="#c8c8c8" stroke-width="0.45" fill="none"/>
<line x1="41.4" y1="223.7" x2="41.4" y2="371.1" stroke="#8c8c8c" stroke-width="0.8"/>
<line x1="40.0" y1="223.7" x2="41.4" y2="223.7" stroke="#8c8c8c" stroke-width="0.6"/>
<text x="33.4" y="225.6" font-size="5.4" fill="#3a3a3a" stroke="#3a3a3a" stroke-width="0.08" textLength="5.4" lengthAdjust="spacingAndGlyphs">15</text>
<line x1="40.0" y1="240.02" x2="41.4" y2="240.02" stroke="#8c8c8c" stroke-width="0.6"/>
<text x="33.4" y="241.92" font-size="5.4" fill="#3a3a3a" stroke="#3a3a3a" stroke-width="0.08" textLength="5.4" lengthAdjust="spacingAndGlyphs">20</text>
<line x1="40.0" y1="256.34" x2="41.4" y2="256.34" stroke="#8c8c8c" stroke-width="0.6"/>
<text x="33.4" y="258.24" font-size="5.4" fill="#3a3a3a" stroke="#3a3a3a" stroke-width="0.08" textLength="5.4" lengthAdjust="spacingAndGlyphs">25</text>
<line x1="40.0" y1="272.66" x2="41.4" y2="272.66" stroke="#8c8c8c" stroke-width="0.6"/>
<text x="33.4" y="274.56" font-size="5.4" fill="#3a3a3a" stroke="#3a3a3a" stroke-width="0.08" textLength="5.4" lengthAdjust="spacingAndGlyphs">30</text>
<line x1="40.0" y1="288.98" x2="41.4" y2="288.98" stroke="#8c8c8c" stroke-width="0.6"/>
<text x="33.4" y="290.88" font-size="5.4" fill="#3a3a3a" stroke="#3a3a3a" stroke-width="0.08" textLength="5.4" lengthAdjust="spacingAndGlyphs">35</text>
<line x1="40.0" y1="305.3" x2="41.4" y2="305.3" stroke="#8c8c8c" stroke-width="0.6"/>
<text x="33.4" y="307.2" font-size="5.4" fill="#3a3a3a" stroke="#3a3a3a" stroke-width="0.08" textLength="5.4" lengthAdjust="spacingAndGlyphs">40</text>
<line x1="40.0" y1="321.62" x2="41.4" y2="321.62" stroke="#8c8c8c" stroke-width="0.6"/>
<text x="33.4" y="323.52" font-size="5.4" fill="#3a3a3a" stroke="#3a3a3a" stroke-width="0.08" textLength="5.4" lengthAdjust="spacingAndGlyphs">45</text>
<line x1="40.0" y1="337.94" x2="41.4" y2="337.94" stroke="#8c8c8c" stroke-width="0.6"/>
<text x="33.4" y="339.84" font-size="5.4" fill="#3a3a3a" stroke="#3a3a3a" stroke-width="0.08" textLength="5.4" lengthAdjust="spacingAndGlyphs">50</text>
<line x1="40.0" y1="354.26" x2="41.4" y2="354.26" stroke="#8c8c8c" stroke-width="0.6"/>
<text x="33.4" y="356.16" font-size="5.4" fill="#3a3a3a" stroke="#3a3a3a" stroke-width="0.08" textLength="5.4" lengthAdjust="spacingAndGlyphs">55</text>
<line x1="40.0" y1="370.58" x2="41.4" y2="370.58" stroke="#8c8c8c" stroke-width="0.6"/>
<text x="33.4" y="372.48" font-size="5.4" fill="#3a3a3a" stroke="#3a3a3a" stroke-width="0.08" textLength="5.4" lengthAdjust="spacingAndGlyphs">60</text>
<line x1="41.4" y1="270.1" x2="350" y2="270.1" stroke="#555" stroke-width="0.85" stroke-dasharray="1.1 1.7"/>
<line x1="41.4" y1="275.8" x2="350" y2="275.8" stroke="#c2c2c2" stroke-width="1.6"/>
<line x1="41.4" y1="278.3" x2="350" y2="278.3" stroke="#555" stroke-width="0.85" stroke-dasharray="1.1 1.7"/>
<line x1="41.4" y1="353.3" x2="350" y2="353.3" stroke="#767676" stroke-width="0.8"/>
<text x="40.7" y="219.9" font-size="5.3" fill="#666" textLength="2.6" lengthAdjust="spacingAndGlyphs">1</text>
<text x="55.1" y="219.9" font-size="5.3" fill="#666" textLength="7.8" lengthAdjust="spacingAndGlyphs">100</text>
<text x="69.58" y="219.9" font-size="5.3" fill="#666" textLength="14.25" lengthAdjust="spacingAndGlyphs">10,000</text>
<text x="90.8" y="219.9" font-size="5.3" fill="#666" textLength="2.6" lengthAdjust="spacingAndGlyphs">1</text>
<text x="103.5" y="219.9" font-size="5.3" fill="#666" textLength="5.2" lengthAdjust="spacingAndGlyphs">10</text>
<text x="116.3" y="219.9" font-size="5.3" fill="#666" textLength="7.8" lengthAdjust="spacingAndGlyphs">100</text>
<text x="127.5" y="219.9" font-size="5.3" fill="#666" textLength="10.4" lengthAdjust="spacingAndGlyphs">1000</text>
<text x="142.78" y="219.9" font-size="5.3" fill="#666" textLength="6.45" lengthAdjust="spacingAndGlyphs">0.1</text>
<text x="157.7" y="219.9" font-size="5.3" fill="#666" textLength="2.6" lengthAdjust="spacingAndGlyphs">1</text>
<text x="171.3" y="219.9" font-size="5.3" fill="#666" textLength="5.2" lengthAdjust="spacingAndGlyphs">10</text>
<text x="183.8" y="219.9" font-size="5.3" fill="#666" textLength="7.8" lengthAdjust="spacingAndGlyphs">100</text>
<text x="197.2" y="219.9" font-size="5.3" fill="#666" textLength="2.6" lengthAdjust="spacingAndGlyphs">1</text>
<text x="215.7" y="219.9" font-size="5.3" fill="#666" textLength="7.8" lengthAdjust="spacingAndGlyphs">100</text>
<text x="231.88" y="219.9" font-size="5.3" fill="#666" textLength="14.25" lengthAdjust="spacingAndGlyphs">10,000</text>
<text x="249" y="219.9" font-size="5.3" fill="#666" textLength="2.6" lengthAdjust="spacingAndGlyphs">1</text>
<text x="262" y="219.9" font-size="5.3" fill="#666" textLength="5.2" lengthAdjust="spacingAndGlyphs">10</text>
<text x="275.4" y="219.9" font-size="5.3" fill="#666" textLength="7.8" lengthAdjust="spacingAndGlyphs">100</text>
<text x="285.6" y="219.9" font-size="5.3" fill="#666" textLength="10.4" lengthAdjust="spacingAndGlyphs">1000</text>
<text x="301" y="219.9" font-size="5.3" fill="#666" textLength="2.6" lengthAdjust="spacingAndGlyphs">1</text>
<text x="314.5" y="219.9" font-size="5.3" fill="#666" textLength="5.2" lengthAdjust="spacingAndGlyphs">10</text>
<text x="327.9" y="219.9" font-size="5.3" fill="#666" textLength="7.8" lengthAdjust="spacingAndGlyphs">100</text>
<text x="339.7" y="219.9" font-size="5.3" fill="#666" textLength="10.4" lengthAdjust="spacingAndGlyphs">1000</text>
<polyline points="58.8,227 61.2,255.6 64.3,262 64.6,268.9 68.6,270.9 58.8,271.6 70.5,274.8 69.4,276.5 75,276.9 67.5,278.3 68.3,278.9 75,282 75.9,285.9 74.9,289.3 77.2,292.7 77.2,295.8 77.2,299.5 77.2,302.9 78.1,305.9 77.1,308.9 75.7,312.1 68.8,315.8 65.5,318.9 71.1,322.1 77.7,325 76.3,328.7 76.7,332 76.3,335.3 76.7,338.5 75.3,341.9 70.1,345.1 73.9,348.4 67.3,351.2 64.1,354.3 61.2,358.2 60.5,364.9" fill="none" stroke="#383838" stroke-width="0.7"/>
<circle cx="58.8" cy="227" r="1.3" fill="#7030a0"/>
<circle cx="61.2" cy="255.6" r="1.3" fill="#7030a0"/>
<circle cx="64.3" cy="262" r="1.3" fill="#7030a0"/>
<circle cx="64.6" cy="268.9" r="1.3" fill="#c00000"/>
<circle cx="68.6" cy="270.9" r="1.3" fill="#1d9b36"/>
<circle cx="58.8" cy="271.6" r="1.3" fill="#1d9b36"/>
<circle cx="70.5" cy="274.8" r="1.3" fill="#1d9b36"/>
<circle cx="69.4" cy="276.5" r="1.3" fill="#c00000"/>
<circle cx="75" cy="276.9" r="1.3" fill="#1d9b36"/>
<circle cx="67.5" cy="278.3" r="1.3" fill="#c00000"/>
<circle cx="68.3" cy="278.9" r="1.3" fill="#1d9b36"/>
<circle cx="75" cy="282" r="1.3" fill="#1d9b36"/>
<circle cx="75.9" cy="285.9" r="1.3" fill="#1d9b36"/>
<circle cx="74.9" cy="289.3" r="1.3" fill="#1d9b36"/>
<circle cx="77.2" cy="292.7" r="1.3" fill="#1d9b36"/>
<circle cx="77.2" cy="295.8" r="1.3" fill="#1d9b36"/>
<circle cx="77.2" cy="299.5" r="1.3" fill="#1d9b36"/>
<circle cx="77.2" cy="302.9" r="1.3" fill="#1d9b36"/>
<circle cx="78.1" cy="305.9" r="1.3" fill="#1d9b36"/>
<circle cx="77.1" cy="308.9" r="1.3" fill="#1d9b36"/>
<circle cx="75.7" cy="312.1" r="1.3" fill="#1d9b36"/>
<circle cx="68.8" cy="315.8" r="1.3" fill="#1d9b36"/>
<circle cx="65.5" cy="318.9" r="1.3" fill="#1d9b36"/>
<circle cx="71.1" cy="322.1" r="1.3" fill="#1d9b36"/>
<circle cx="77.7" cy="325" r="1.3" fill="#1d9b36"/>
<circle cx="76.3" cy="328.7" r="1.3" fill="#1d9b36"/>
<circle cx="76.7" cy="332" r="1.3" fill="#1d9b36"/>
<circle cx="76.3" cy="335.3" r="1.3" fill="#1d9b36"/>
<circle cx="76.7" cy="338.5" r="1.3" fill="#1d9b36"/>
<circle cx="75.3" cy="341.9" r="1.3" fill="#1d9b36"/>
<circle cx="70.1" cy="345.1" r="1.3" fill="#1d9b36"/>
<circle cx="73.9" cy="348.4" r="1.3" fill="#1d9b36"/>
<circle cx="67.3" cy="351.2" r="1.3" fill="#1d9b36"/>
<circle cx="64.1" cy="354.3" r="1.3" fill="#c00000"/>
<circle cx="61.2" cy="358.2" r="1.3" fill="#c00000"/>
<circle cx="60.5" cy="364.9" r="1.3" fill="#c00000"/>
<polyline points="104.2,227 108,255.6 119.7,262 126,268.9 122.5,270.9 120.1,271.6 118.6,274.8 134.7,276.5 125,276.9 133.2,278.3 120.1,278.9 116.1,282 119.4,285.9 120.7,289.3 121.1,292.7 117.9,295.8 115.9,299.5 116.2,302.9 116.2,305.9 114.8,308.9 113.1,312.1 121.1,315.8 122.1,318.9 117.3,322.1 118.3,325 123.2,328.7 115,332 114.5,335.3 115.5,338.5 116.2,341.9 116.9,345.1 116.5,348.4 117.9,351.2 120.1,354.3 108.8,358.2 106.3,364.9" fill="none" stroke="#383838" stroke-width="0.7"/>
<circle cx="104.2" cy="227" r="1.3" fill="#7030a0"/>
<circle cx="108" cy="255.6" r="1.3" fill="#7030a0"/>
<circle cx="119.7" cy="262" r="1.3" fill="#7030a0"/>
<circle cx="126" cy="268.9" r="1.3" fill="#c00000"/>
<circle cx="122.5" cy="270.9" r="1.3" fill="#1d9b36"/>
<circle cx="120.1" cy="271.6" r="1.3" fill="#1d9b36"/>
<circle cx="118.6" cy="274.8" r="1.3" fill="#1d9b36"/>
<circle cx="134.7" cy="276.5" r="1.3" fill="#c00000"/>
<circle cx="125" cy="276.9" r="1.3" fill="#1d9b36"/>
<circle cx="133.2" cy="278.3" r="1.3" fill="#c00000"/>
<circle cx="120.1" cy="278.9" r="1.3" fill="#1d9b36"/>
<circle cx="116.1" cy="282" r="1.3" fill="#1d9b36"/>
<circle cx="119.4" cy="285.9" r="1.3" fill="#1d9b36"/>
<circle cx="120.7" cy="289.3" r="1.3" fill="#1d9b36"/>
<circle cx="121.1" cy="292.7" r="1.3" fill="#1d9b36"/>
<circle cx="117.9" cy="295.8" r="1.3" fill="#1d9b36"/>
<circle cx="115.9" cy="299.5" r="1.3" fill="#1d9b36"/>
<circle cx="116.2" cy="302.9" r="1.3" fill="#1d9b36"/>
<circle cx="116.2" cy="305.9" r="1.3" fill="#1d9b36"/>
<circle cx="114.8" cy="308.9" r="1.3" fill="#1d9b36"/>
<circle cx="113.1" cy="312.1" r="1.3" fill="#1d9b36"/>
<circle cx="121.1" cy="315.8" r="1.3" fill="#1d9b36"/>
<circle cx="122.1" cy="318.9" r="1.3" fill="#1d9b36"/>
<circle cx="117.3" cy="322.1" r="1.3" fill="#1d9b36"/>
<circle cx="118.3" cy="325" r="1.3" fill="#1d9b36"/>
<circle cx="123.2" cy="328.7" r="1.3" fill="#1d9b36"/>
<circle cx="115" cy="332" r="1.3" fill="#1d9b36"/>
<circle cx="114.5" cy="335.3" r="1.3" fill="#1d9b36"/>
<circle cx="115.5" cy="338.5" r="1.3" fill="#1d9b36"/>
<circle cx="116.2" cy="341.9" r="1.3" fill="#1d9b36"/>
<circle cx="116.9" cy="345.1" r="1.3" fill="#1d9b36"/>
<circle cx="116.5" cy="348.4" r="1.3" fill="#1d9b36"/>
<circle cx="117.9" cy="351.2" r="1.3" fill="#1d9b36"/>
<circle cx="120.1" cy="354.3" r="1.3" fill="#c00000"/>
<circle cx="108.8" cy="358.2" r="1.3" fill="#c00000"/>
<circle cx="106.3" cy="364.9" r="1.3" fill="#c00000"/>
<polyline points="158.3,227 156.9,255.6 159.4,262 174.1,268.9 176.9,270.9 178,271.6 176.9,274.8 180.1,276.5 185.8,276.9 167.3,278.3 176.6,278.9 182,282 184.4,285.9 183.9,289.3 180.8,292.7 183,295.8 183,299.5 183.9,302.9 182.5,305.9 178.7,308.9 175.2,312.1 169.9,315.8 179.2,318.9 181.1,322.1 183,325 179.3,328.7 179.4,332 180.1,335.3 182.3,338.5 179.2,341.9 176.3,345.1 179.2,348.4 171.7,351.2 155.8,354.3 153.4,358.2 154.8,364.9" fill="none" stroke="#383838" stroke-width="0.7"/>
<circle cx="158.3" cy="227" r="1.3" fill="#7030a0"/>
<circle cx="156.9" cy="255.6" r="1.3" fill="#7030a0"/>
<circle cx="159.4" cy="262" r="1.3" fill="#7030a0"/>
<circle cx="174.1" cy="268.9" r="1.3" fill="#c00000"/>
<circle cx="176.9" cy="270.9" r="1.3" fill="#1d9b36"/>
<circle cx="178" cy="271.6" r="1.3" fill="#1d9b36"/>
<circle cx="176.9" cy="274.8" r="1.3" fill="#1d9b36"/>
<circle cx="180.1" cy="276.5" r="1.3" fill="#c00000"/>
<circle cx="185.8" cy="276.9" r="1.3" fill="#1d9b36"/>
<circle cx="167.3" cy="278.3" r="1.3" fill="#c00000"/>
<circle cx="176.6" cy="278.9" r="1.3" fill="#1d9b36"/>
<circle cx="182" cy="282" r="1.3" fill="#1d9b36"/>
<circle cx="184.4" cy="285.9" r="1.3" fill="#1d9b36"/>
<circle cx="183.9" cy="289.3" r="1.3" fill="#1d9b36"/>
<circle cx="180.8" cy="292.7" r="1.3" fill="#1d9b36"/>
<circle cx="183" cy="295.8" r="1.3" fill="#1d9b36"/>
<circle cx="183" cy="299.5" r="1.3" fill="#1d9b36"/>
<circle cx="183.9" cy="302.9" r="1.3" fill="#1d9b36"/>
<circle cx="182.5" cy="305.9" r="1.3" fill="#1d9b36"/>
<circle cx="178.7" cy="308.9" r="1.3" fill="#1d9b36"/>
<circle cx="175.2" cy="312.1" r="1.3" fill="#1d9b36"/>
<circle cx="169.9" cy="315.8" r="1.3" fill="#1d9b36"/>
<circle cx="179.2" cy="318.9" r="1.3" fill="#1d9b36"/>
<circle cx="181.1" cy="322.1" r="1.3" fill="#1d9b36"/>
<circle cx="183" cy="325" r="1.3" fill="#1d9b36"/>
<circle cx="179.3" cy="328.7" r="1.3" fill="#1d9b36"/>
<circle cx="179.4" cy="332" r="1.3" fill="#1d9b36"/>
<circle cx="180.1" cy="335.3" r="1.3" fill="#1d9b36"/>
<circle cx="182.3" cy="338.5" r="1.3" fill="#1d9b36"/>
<circle cx="179.2" cy="341.9" r="1.3" fill="#1d9b36"/>
<circle cx="176.3" cy="345.1" r="1.3" fill="#1d9b36"/>
<circle cx="179.2" cy="348.4" r="1.3" fill="#1d9b36"/>
<circle cx="171.7" cy="351.2" r="1.3" fill="#1d9b36"/>
<circle cx="155.8" cy="354.3" r="1.3" fill="#c00000"/>
<circle cx="153.4" cy="358.2" r="1.3" fill="#c00000"/>
<circle cx="154.8" cy="364.9" r="1.3" fill="#c00000"/>
<polyline points="220,227 219.5,255.6 222.6,262 225.7,268.9 229.9,270.9 231.7,271.6 226.3,274.8 233.1,276.5 231.3,276.9 229.1,278.3 228.2,278.9 223.7,282 226.5,285.9 229.3,289.3 229.9,292.7 225.1,295.8 222.9,299.5 224.7,302.9 222.9,305.9 221.9,308.9 223.3,312.1 231.7,315.8 229.8,318.9 227.3,322.1 226.1,325 230.9,328.7 223.3,332 222.3,335.3 222.3,338.5 224.3,341.9 225.7,345.1 225.1,348.4 227.5,351.2 222.9,354.3 220.5,358.2 219.5,364.9" fill="none" stroke="#383838" stroke-width="0.7"/>
<circle cx="220" cy="227" r="1.3" fill="#7030a0"/>
<circle cx="219.5" cy="255.6" r="1.3" fill="#7030a0"/>
<circle cx="222.6" cy="262" r="1.3" fill="#7030a0"/>
<circle cx="225.7" cy="268.9" r="1.3" fill="#c00000"/>
<circle cx="229.9" cy="270.9" r="1.3" fill="#1d9b36"/>
<circle cx="231.7" cy="271.6" r="1.3" fill="#1d9b36"/>
<circle cx="226.3" cy="274.8" r="1.3" fill="#1d9b36"/>
<circle cx="233.1" cy="276.5" r="1.3" fill="#c00000"/>
<circle cx="231.3" cy="276.9" r="1.3" fill="#1d9b36"/>
<circle cx="229.1" cy="278.3" r="1.3" fill="#c00000"/>
<circle cx="228.2" cy="278.9" r="1.3" fill="#1d9b36"/>
<circle cx="223.7" cy="282" r="1.3" fill="#1d9b36"/>
<circle cx="226.5" cy="285.9" r="1.3" fill="#1d9b36"/>
<circle cx="229.3" cy="289.3" r="1.3" fill="#1d9b36"/>
<circle cx="229.9" cy="292.7" r="1.3" fill="#1d9b36"/>
<circle cx="225.1" cy="295.8" r="1.3" fill="#1d9b36"/>
<circle cx="222.9" cy="299.5" r="1.3" fill="#1d9b36"/>
<circle cx="224.7" cy="302.9" r="1.3" fill="#1d9b36"/>
<circle cx="222.9" cy="305.9" r="1.3" fill="#1d9b36"/>
<circle cx="221.9" cy="308.9" r="1.3" fill="#1d9b36"/>
<circle cx="223.3" cy="312.1" r="1.3" fill="#1d9b36"/>
<circle cx="231.7" cy="315.8" r="1.3" fill="#1d9b36"/>
<circle cx="229.8" cy="318.9" r="1.3" fill="#1d9b36"/>
<circle cx="227.3" cy="322.1" r="1.3" fill="#1d9b36"/>
<circle cx="226.1" cy="325" r="1.3" fill="#1d9b36"/>
<circle cx="230.9" cy="328.7" r="1.3" fill="#1d9b36"/>
<circle cx="223.3" cy="332" r="1.3" fill="#1d9b36"/>
<circle cx="222.3" cy="335.3" r="1.3" fill="#1d9b36"/>
<circle cx="222.3" cy="338.5" r="1.3" fill="#1d9b36"/>
<circle cx="224.3" cy="341.9" r="1.3" fill="#1d9b36"/>
<circle cx="225.7" cy="345.1" r="1.3" fill="#1d9b36"/>
<circle cx="225.1" cy="348.4" r="1.3" fill="#1d9b36"/>
<circle cx="227.5" cy="351.2" r="1.3" fill="#1d9b36"/>
<circle cx="222.9" cy="354.3" r="1.3" fill="#c00000"/>
<circle cx="220.5" cy="358.2" r="1.3" fill="#c00000"/>
<circle cx="219.5" cy="364.9" r="1.3" fill="#c00000"/>
<polyline points="257,227 259.4,255.6 258.4,262 274.5,268.9 279.8,270.9 272.5,271.6 283.1,274.8 272.1,276.5 277.7,276.9 267.4,278.3 281.9,278.9 283.7,282 285.7,285.9 283.3,289.3 281.9,292.7 282.3,295.8 280.1,299.5 281.2,302.9 282.9,305.9 283.7,308.9 279.8,312.1 277,315.8 278.3,318.9 281.2,322.1 280.8,325 279.1,328.7 281.5,332 280.5,335.3 281.9,338.5 280.1,341.9 281.2,345.1 281.9,348.4 281.9,351.2 260.8,354.3 257,358.2 258,364.9" fill="none" stroke="#383838" stroke-width="0.7"/>
<circle cx="257" cy="227" r="1.3" fill="#7030a0"/>
<circle cx="259.4" cy="255.6" r="1.3" fill="#7030a0"/>
<circle cx="258.4" cy="262" r="1.3" fill="#7030a0"/>
<circle cx="274.5" cy="268.9" r="1.3" fill="#c00000"/>
<circle cx="279.8" cy="270.9" r="1.3" fill="#1d9b36"/>
<circle cx="272.5" cy="271.6" r="1.3" fill="#1d9b36"/>
<circle cx="283.1" cy="274.8" r="1.3" fill="#1d9b36"/>
<circle cx="272.1" cy="276.5" r="1.3" fill="#c00000"/>
<circle cx="277.7" cy="276.9" r="1.3" fill="#1d9b36"/>
<circle cx="267.4" cy="278.3" r="1.3" fill="#c00000"/>
<circle cx="281.9" cy="278.9" r="1.3" fill="#1d9b36"/>
<circle cx="283.7" cy="282" r="1.3" fill="#1d9b36"/>
<circle cx="285.7" cy="285.9" r="1.3" fill="#1d9b36"/>
<circle cx="283.3" cy="289.3" r="1.3" fill="#1d9b36"/>
<circle cx="281.9" cy="292.7" r="1.3" fill="#1d9b36"/>
<circle cx="282.3" cy="295.8" r="1.3" fill="#1d9b36"/>
<circle cx="280.1" cy="299.5" r="1.3" fill="#1d9b36"/>
<circle cx="281.2" cy="302.9" r="1.3" fill="#1d9b36"/>
<circle cx="282.9" cy="305.9" r="1.3" fill="#1d9b36"/>
<circle cx="283.7" cy="308.9" r="1.3" fill="#1d9b36"/>
<circle cx="279.8" cy="312.1" r="1.3" fill="#1d9b36"/>
<circle cx="277" cy="315.8" r="1.3" fill="#1d9b36"/>
<circle cx="278.3" cy="318.9" r="1.3" fill="#1d9b36"/>
<circle cx="281.2" cy="322.1" r="1.3" fill="#1d9b36"/>
<circle cx="280.8" cy="325" r="1.3" fill="#1d9b36"/>
<circle cx="279.1" cy="328.7" r="1.3" fill="#1d9b36"/>
<circle cx="281.5" cy="332" r="1.3" fill="#1d9b36"/>
<circle cx="280.5" cy="335.3" r="1.3" fill="#1d9b36"/>
<circle cx="281.9" cy="338.5" r="1.3" fill="#1d9b36"/>
<circle cx="280.1" cy="341.9" r="1.3" fill="#1d9b36"/>
<circle cx="281.2" cy="345.1" r="1.3" fill="#1d9b36"/>
<circle cx="281.9" cy="348.4" r="1.3" fill="#1d9b36"/>
<circle cx="281.9" cy="351.2" r="1.3" fill="#1d9b36"/>
<circle cx="260.8" cy="354.3" r="1.3" fill="#c00000"/>
<circle cx="257" cy="358.2" r="1.3" fill="#c00000"/>
<circle cx="258" cy="364.9" r="1.3" fill="#c00000"/>
<polyline points="309,227 314.9,255.6 315.6,262 327.6,268.9 331.1,270.9 320.5,271.6 328.7,274.8 336.5,276.5 331.8,276.9 333.3,278.3 329.2,278.9 329.3,282 331.5,285.9 330.1,289.3 333.9,292.7 332.9,295.8 332.5,299.5 332.5,302.9 332.5,305.9 331.1,308.9 328.3,312.1 329.3,315.8 335.3,318.9 331.5,322.1 333.9,325 332.1,328.7 331.1,332 330.1,335.3 329.7,338.5 329.7,341.9 330.1,345.1 330.1,348.4 331.5,351.2 320.8,354.3 311,358.2 311,364.9" fill="none" stroke="#383838" stroke-width="0.7"/>
<circle cx="309" cy="227" r="1.3" fill="#7030a0"/>
<circle cx="314.9" cy="255.6" r="1.3" fill="#7030a0"/>
<circle cx="315.6" cy="262" r="1.3" fill="#7030a0"/>
<circle cx="327.6" cy="268.9" r="1.3" fill="#c00000"/>
<circle cx="331.1" cy="270.9" r="1.3" fill="#1d9b36"/>
<circle cx="320.5" cy="271.6" r="1.3" fill="#1d9b36"/>
<circle cx="328.7" cy="274.8" r="1.3" fill="#1d9b36"/>
<circle cx="336.5" cy="276.5" r="1.3" fill="#c00000"/>
<circle cx="331.8" cy="276.9" r="1.3" fill="#1d9b36"/>
<circle cx="333.3" cy="278.3" r="1.3" fill="#c00000"/>
<circle cx="329.2" cy="278.9" r="1.3" fill="#1d9b36"/>
<circle cx="329.3" cy="282" r="1.3" fill="#1d9b36"/>
<circle cx="331.5" cy="285.9" r="1.3" fill="#1d9b36"/>
<circle cx="330.1" cy="289.3" r="1.3" fill="#1d9b36"/>
<circle cx="333.9" cy="292.7" r="1.3" fill="#1d9b36"/>
<circle cx="332.9" cy="295.8" r="1.3" fill="#1d9b36"/>
<circle cx="332.5" cy="299.5" r="1.3" fill="#1d9b36"/>
<circle cx="332.5" cy="302.9" r="1.3" fill="#1d9b36"/>
<circle cx="332.5" cy="305.9" r="1.3" fill="#1d9b36"/>
<circle cx="331.1" cy="308.9" r="1.3" fill="#1d9b36"/>
<circle cx="328.3" cy="312.1" r="1.3" fill="#1d9b36"/>
<circle cx="329.3" cy="315.8" r="1.3" fill="#1d9b36"/>
<circle cx="335.3" cy="318.9" r="1.3" fill="#1d9b36"/>
<circle cx="331.5" cy="322.1" r="1.3" fill="#1d9b36"/>
<circle cx="333.9" cy="325" r="1.3" fill="#1d9b36"/>
<circle cx="332.1" cy="328.7" r="1.3" fill="#1d9b36"/>
<circle cx="331.1" cy="332" r="1.3" fill="#1d9b36"/>
<circle cx="330.1" cy="335.3" r="1.3" fill="#1d9b36"/>
<circle cx="329.7" cy="338.5" r="1.3" fill="#1d9b36"/>
<circle cx="329.7" cy="341.9" r="1.3" fill="#1d9b36"/>
<circle cx="330.1" cy="345.1" r="1.3" fill="#1d9b36"/>
<circle cx="330.1" cy="348.4" r="1.3" fill="#1d9b36"/>
<circle cx="331.5" cy="351.2" r="1.3" fill="#1d9b36"/>
<circle cx="320.8" cy="354.3" r="1.3" fill="#c00000"/>
<circle cx="311" cy="358.2" r="1.3" fill="#c00000"/>
<circle cx="311" cy="364.9" r="1.3" fill="#c00000"/>
<rect x="3.8" y="207.7" width="14.5" height="14.3" fill="#fff" stroke="#4a4a4a" stroke-width="0.9"/>
<text x="11.35" y="218.5" font-size="10.2" fill="#1a1a1a" stroke="#1a1a1a" stroke-width="0.25" text-anchor="middle">B</text>
<line x1="20.4" y1="224.5" x2="20.4" y2="368.6" stroke="#3a3a3a" stroke-width="0.9"/>
<path d="M18.8,367.2 L22,367.2 L20.4,371.6 Z" fill="#262626"/>
<text transform="translate(13.2,296.5) rotate(-90)" x="-26.8" font-size="6.3" font-weight="bold" fill="#1a1a1a" textLength="53.6" lengthAdjust="spacingAndGlyphs">Drill core ACL 13-04</text>
<text transform="translate(25.5,296.5) rotate(-90)" font-size="5.5" font-style="italic" fill="#333" stroke="#333" stroke-width="0.1" text-anchor="middle">Depth from surface (m)</text>
<line x1="59" y1="397.3" x2="59" y2="528.3" stroke="#e4e4e4" stroke-width="0.6"/>
<line x1="75.6" y1="397.3" x2="75.6" y2="528.3" stroke="#e4e4e4" stroke-width="0.6"/>
<path d="M41.4,397.3 V528.3 H84 V397.3" fill="none" stroke="#a8a8a8" stroke-width="0.8"/>
<line x1="41.4" y1="397.3" x2="84" y2="397.3" stroke="#c0c0c0" stroke-width="0.7"/>
<path d="M43.96,397.3v1.1 M45.47,397.3v1.1 M46.53,397.3v1.1 M47.36,397.3v1.1 M48.03,397.3v1.1 M48.6,397.3v1.1 M49.09,397.3v1.1 M49.53,397.3v1.1 M52.48,397.3v1.1 M53.99,397.3v1.1 M55.05,397.3v1.1 M55.88,397.3v1.1 M56.55,397.3v1.1 M57.12,397.3v1.1 M57.61,397.3v1.1 M58.05,397.3v1.1 M61,397.3v1.1 M62.51,397.3v1.1 M63.57,397.3v1.1 M64.4,397.3v1.1 M65.07,397.3v1.1 M65.64,397.3v1.1 M66.13,397.3v1.1 M66.57,397.3v1.1 M69.52,397.3v1.1 M71.03,397.3v1.1 M72.09,397.3v1.1 M72.92,397.3v1.1 M73.59,397.3v1.1 M74.16,397.3v1.1 M74.65,397.3v1.1 M75.09,397.3v1.1 M78.04,397.3v1.1 M79.55,397.3v1.1 M80.61,397.3v1.1 M81.44,397.3v1.1 M82.11,397.3v1.1 M82.68,397.3v1.1 M83.17,397.3v1.1 M83.61,397.3v1.1" stroke="#c8c8c8" stroke-width="0.45" fill="none"/>
<line x1="105.6" y1="397.3" x2="105.6" y2="528.3" stroke="#e4e4e4" stroke-width="0.6"/>
<line x1="120.9" y1="397.3" x2="120.9" y2="528.3" stroke="#e4e4e4" stroke-width="0.6"/>
<path d="M90.3,397.3 V528.3 H135.3 V397.3" fill="none" stroke="#a8a8a8" stroke-width="0.8"/>
<line x1="90.3" y1="397.3" x2="135.3" y2="397.3" stroke="#c0c0c0" stroke-width="0.7"/>
<path d="M94.82,397.3v1.1 M97.46,397.3v1.1 M99.33,397.3v1.1 M100.78,397.3v1.1 M101.97,397.3v1.1 M102.98,397.3v1.1 M103.85,397.3v1.1 M104.61,397.3v1.1 M109.82,397.3v1.1 M112.46,397.3v1.1 M114.33,397.3v1.1 M115.78,397.3v1.1 M116.97,397.3v1.1 M117.98,397.3v1.1 M118.85,397.3v1.1 M119.61,397.3v1.1 M124.82,397.3v1.1 M127.46,397.3v1.1 M129.33,397.3v1.1 M130.78,397.3v1.1 M131.97,397.3v1.1 M132.98,397.3v1.1 M133.85,397.3v1.1 M134.61,397.3v1.1" stroke="#c8c8c8" stroke-width="0.45" fill="none"/>
<line x1="159" y1="397.3" x2="159" y2="528.3" stroke="#e4e4e4" stroke-width="0.6"/>
<line x1="174.4" y1="397.3" x2="174.4" y2="528.3" stroke="#e4e4e4" stroke-width="0.6"/>
<path d="M143.5,397.3 V528.3 H189.4 V397.3" fill="none" stroke="#a8a8a8" stroke-width="0.8"/>
<line x1="143.5" y1="397.3" x2="189.4" y2="397.3" stroke="#c0c0c0" stroke-width="0.7"/>
<path d="M148.11,397.3v1.1 M150.8,397.3v1.1 M152.71,397.3v1.1 M154.19,397.3v1.1 M155.41,397.3v1.1 M156.43,397.3v1.1 M157.32,397.3v1.1 M158.1,397.3v1.1 M163.41,397.3v1.1 M166.1,397.3v1.1 M168.01,397.3v1.1 M169.49,397.3v1.1 M170.71,397.3v1.1 M171.73,397.3v1.1 M172.62,397.3v1.1 M173.4,397.3v1.1 M178.71,397.3v1.1 M181.4,397.3v1.1 M183.31,397.3v1.1 M184.79,397.3v1.1 M186.01,397.3v1.1 M187.03,397.3v1.1 M187.92,397.3v1.1 M188.7,397.3v1.1" stroke="#c8c8c8" stroke-width="0.45" fill="none"/>
<line x1="218.4" y1="397.3" x2="218.4" y2="528.3" stroke="#e4e4e4" stroke-width="0.6"/>
<path d="M196.5,397.3 V528.3 H240.2 V397.3" fill="none" stroke="#a8a8a8" stroke-width="0.8"/>
<line x1="196.5" y1="397.3" x2="240.2" y2="397.3" stroke="#c0c0c0" stroke-width="0.7"/>
<path d="M199.79,397.3v1.1 M201.71,397.3v1.1 M203.08,397.3v1.1 M204.14,397.3v1.1 M205,397.3v1.1 M205.73,397.3v1.1 M206.37,397.3v1.1 M206.93,397.3v1.1 M210.71,397.3v1.1 M212.64,397.3v1.1 M214,397.3v1.1 M215.06,397.3v1.1 M215.93,397.3v1.1 M216.66,397.3v1.1 M217.29,397.3v1.1 M217.85,397.3v1.1 M221.64,397.3v1.1 M223.56,397.3v1.1 M224.93,397.3v1.1 M225.99,397.3v1.1 M226.85,397.3v1.1 M227.58,397.3v1.1 M228.22,397.3v1.1 M228.78,397.3v1.1 M232.56,397.3v1.1 M234.49,397.3v1.1 M235.85,397.3v1.1 M236.91,397.3v1.1 M237.78,397.3v1.1 M238.51,397.3v1.1 M239.14,397.3v1.1 M239.7,397.3v1.1" stroke="#c8c8c8" stroke-width="0.45" fill="none"/>
<line x1="263.8" y1="397.3" x2="263.8" y2="528.3" stroke="#e4e4e4" stroke-width="0.6"/>
<line x1="279.1" y1="397.3" x2="279.1" y2="528.3" stroke="#e4e4e4" stroke-width="0.6"/>
<path d="M249.3,397.3 V528.3 H293.3 V397.3" fill="none" stroke="#a8a8a8" stroke-width="0.8"/>
<line x1="249.3" y1="397.3" x2="293.3" y2="397.3" stroke="#c0c0c0" stroke-width="0.7"/>
<path d="M253.72,397.3v1.1 M256.3,397.3v1.1 M258.13,397.3v1.1 M259.55,397.3v1.1 M260.71,397.3v1.1 M261.69,397.3v1.1 M262.55,397.3v1.1 M263.3,397.3v1.1 M268.38,397.3v1.1 M270.96,397.3v1.1 M272.8,397.3v1.1 M274.22,397.3v1.1 M275.38,397.3v1.1 M276.36,397.3v1.1 M277.21,397.3v1.1 M277.96,397.3v1.1 M283.05,397.3v1.1 M285.63,397.3v1.1 M287.46,397.3v1.1 M288.88,397.3v1.1 M290.05,397.3v1.1 M291.03,397.3v1.1 M291.88,397.3v1.1 M292.63,397.3v1.1" stroke="#c8c8c8" stroke-width="0.45" fill="none"/>
<line x1="317.4" y1="397.3" x2="317.4" y2="528.3" stroke="#e4e4e4" stroke-width="0.6"/>
<line x1="331.9" y1="397.3" x2="331.9" y2="528.3" stroke="#e4e4e4" stroke-width="0.6"/>
<path d="M302.2,397.3 V528.3 H346.3 V397.3" fill="none" stroke="#a8a8a8" stroke-width="0.8"/>
<line x1="302.2" y1="397.3" x2="346.3" y2="397.3" stroke="#c0c0c0" stroke-width="0.7"/>
<path d="M306.63,397.3v1.1 M309.21,397.3v1.1 M311.05,397.3v1.1 M312.47,397.3v1.1 M313.64,397.3v1.1 M314.62,397.3v1.1 M315.48,397.3v1.1 M316.23,397.3v1.1 M321.33,397.3v1.1 M323.91,397.3v1.1 M325.75,397.3v1.1 M327.17,397.3v1.1 M328.34,397.3v1.1 M329.32,397.3v1.1 M330.18,397.3v1.1 M330.93,397.3v1.1 M336.03,397.3v1.1 M338.61,397.3v1.1 M340.45,397.3v1.1 M341.87,397.3v1.1 M343.04,397.3v1.1 M344.02,397.3v1.1 M344.88,397.3v1.1 M345.63,397.3v1.1" stroke="#c8c8c8" stroke-width="0.45" fill="none"/>
<line x1="41.4" y1="397.3" x2="41.4" y2="528.3" stroke="#8c8c8c" stroke-width="0.8"/>
<line x1="109.5" y1="397.3" x2="109.5" y2="528.3" stroke="#a6a6a6" stroke-width="0.7"/>
<line x1="166.4" y1="397.3" x2="166.4" y2="528.3" stroke="#a6a6a6" stroke-width="0.7"/>
<line x1="40.0" y1="397.1" x2="41.4" y2="397.1" stroke="#8c8c8c" stroke-width="0.6"/>
<text x="33.4" y="399" font-size="5.4" fill="#3a3a3a" stroke="#3a3a3a" stroke-width="0.08" textLength="5.4" lengthAdjust="spacingAndGlyphs">25</text>
<line x1="40.0" y1="413.45" x2="41.4" y2="413.45" stroke="#8c8c8c" stroke-width="0.6"/>
<text x="33.4" y="415.35" font-size="5.4" fill="#3a3a3a" stroke="#3a3a3a" stroke-width="0.08" textLength="5.4" lengthAdjust="spacingAndGlyphs">30</text>
<line x1="40.0" y1="429.8" x2="41.4" y2="429.8" stroke="#8c8c8c" stroke-width="0.6"/>
<text x="33.4" y="431.7" font-size="5.4" fill="#3a3a3a" stroke="#3a3a3a" stroke-width="0.08" textLength="5.4" lengthAdjust="spacingAndGlyphs">35</text>
<line x1="40.0" y1="446.15" x2="41.4" y2="446.15" stroke="#8c8c8c" stroke-width="0.6"/>
<text x="33.4" y="448.05" font-size="5.4" fill="#3a3a3a" stroke="#3a3a3a" stroke-width="0.08" textLength="5.4" lengthAdjust="spacingAndGlyphs">40</text>
<line x1="40.0" y1="462.5" x2="41.4" y2="462.5" stroke="#8c8c8c" stroke-width="0.6"/>
<text x="33.4" y="464.4" font-size="5.4" fill="#3a3a3a" stroke="#3a3a3a" stroke-width="0.08" textLength="5.4" lengthAdjust="spacingAndGlyphs">45</text>
<line x1="40.0" y1="478.85" x2="41.4" y2="478.85" stroke="#8c8c8c" stroke-width="0.6"/>
<text x="33.4" y="480.75" font-size="5.4" fill="#3a3a3a" stroke="#3a3a3a" stroke-width="0.08" textLength="5.4" lengthAdjust="spacingAndGlyphs">50</text>
<line x1="40.0" y1="495.2" x2="41.4" y2="495.2" stroke="#8c8c8c" stroke-width="0.6"/>
<text x="33.4" y="497.1" font-size="5.4" fill="#3a3a3a" stroke="#3a3a3a" stroke-width="0.08" textLength="5.4" lengthAdjust="spacingAndGlyphs">55</text>
<line x1="40.0" y1="511.55" x2="41.4" y2="511.55" stroke="#8c8c8c" stroke-width="0.6"/>
<text x="33.4" y="513.45" font-size="5.4" fill="#3a3a3a" stroke="#3a3a3a" stroke-width="0.08" textLength="5.4" lengthAdjust="spacingAndGlyphs">60</text>
<line x1="40.0" y1="527.9" x2="41.4" y2="527.9" stroke="#8c8c8c" stroke-width="0.6"/>
<text x="33.4" y="529.8" font-size="5.4" fill="#3a3a3a" stroke="#3a3a3a" stroke-width="0.08" textLength="5.4" lengthAdjust="spacingAndGlyphs">65</text>
<line x1="41.4" y1="430.5" x2="350" y2="430.5" stroke="#555" stroke-width="0.85" stroke-dasharray="1.1 1.7"/>
<line x1="41.4" y1="440.3" x2="350" y2="440.3" stroke="#767676" stroke-width="0.8"/>
<line x1="41.4" y1="445.4" x2="350" y2="445.4" stroke="#555" stroke-width="0.85" stroke-dasharray="1.1 1.7"/>
<line x1="41.4" y1="497" x2="350" y2="497" stroke="#767676" stroke-width="0.8"/>
<line x1="41.4" y1="514.1" x2="350" y2="514.1" stroke="#555" stroke-width="0.85" stroke-dasharray="1.1 1.7"/>
<line x1="41.4" y1="515.9" x2="350" y2="515.9" stroke="#767676" stroke-width="0.8"/>
<text x="40.7" y="392.6" font-size="5.3" fill="#666" textLength="2.6" lengthAdjust="spacingAndGlyphs">1</text>
<text x="55.1" y="392.6" font-size="5.3" fill="#666" textLength="7.8" lengthAdjust="spacingAndGlyphs">100</text>
<text x="69.58" y="392.6" font-size="5.3" fill="#666" textLength="14.25" lengthAdjust="spacingAndGlyphs">10,000</text>
<text x="90.8" y="392.6" font-size="5.3" fill="#666" textLength="2.6" lengthAdjust="spacingAndGlyphs">1</text>
<text x="103.5" y="392.6" font-size="5.3" fill="#666" textLength="5.2" lengthAdjust="spacingAndGlyphs">10</text>
<text x="116.3" y="392.6" font-size="5.3" fill="#666" textLength="7.8" lengthAdjust="spacingAndGlyphs">100</text>
<text x="127.5" y="392.6" font-size="5.3" fill="#666" textLength="10.4" lengthAdjust="spacingAndGlyphs">1000</text>
<text x="142.78" y="392.6" font-size="5.3" fill="#666" textLength="6.45" lengthAdjust="spacingAndGlyphs">0.1</text>
<text x="157.7" y="392.6" font-size="5.3" fill="#666" textLength="2.6" lengthAdjust="spacingAndGlyphs">1</text>
<text x="171.3" y="392.6" font-size="5.3" fill="#666" textLength="5.2" lengthAdjust="spacingAndGlyphs">10</text>
<text x="183.8" y="392.6" font-size="5.3" fill="#666" textLength="7.8" lengthAdjust="spacingAndGlyphs">100</text>
<text x="197.2" y="392.6" font-size="5.3" fill="#666" textLength="2.6" lengthAdjust="spacingAndGlyphs">1</text>
<text x="215.7" y="392.6" font-size="5.3" fill="#666" textLength="7.8" lengthAdjust="spacingAndGlyphs">100</text>
<text x="231.88" y="392.6" font-size="5.3" fill="#666" textLength="14.25" lengthAdjust="spacingAndGlyphs">10,000</text>
<text x="249" y="392.6" font-size="5.3" fill="#666" textLength="2.6" lengthAdjust="spacingAndGlyphs">1</text>
<text x="262" y="392.6" font-size="5.3" fill="#666" textLength="5.2" lengthAdjust="spacingAndGlyphs">10</text>
<text x="275.4" y="392.6" font-size="5.3" fill="#666" textLength="7.8" lengthAdjust="spacingAndGlyphs">100</text>
<text x="285.6" y="392.6" font-size="5.3" fill="#666" textLength="10.4" lengthAdjust="spacingAndGlyphs">1000</text>
<text x="301" y="392.6" font-size="5.3" fill="#666" textLength="2.6" lengthAdjust="spacingAndGlyphs">1</text>
<text x="314.5" y="392.6" font-size="5.3" fill="#666" textLength="5.2" lengthAdjust="spacingAndGlyphs">10</text>
<text x="327.9" y="392.6" font-size="5.3" fill="#666" textLength="7.8" lengthAdjust="spacingAndGlyphs">100</text>
<text x="339.7" y="392.6" font-size="5.3" fill="#666" textLength="10.4" lengthAdjust="spacingAndGlyphs">1000</text>
<polyline points="60.8,413.8 61.2,420.1 62.6,426.4 55.6,432.4 63.1,432.4 56,433.3 69,436.6 64.1,441.4 62.6,446.1 65.9,446.5 65.5,448.9 76,449.3 74.9,453.1 75.3,456.3 65.5,459.7 67.3,460.1 63.1,462.5 73.5,464.4 72.1,466.5 71.5,469.6 73.9,472.8 56,475.5 72.9,478.6 56.6,480.6 57.7,483 63.4,486.2 59.1,489.4 66.2,493.9 58.4,497 64.5,497.9 64.1,502.7 64.8,509.4 58.4,515.1 63.4,516.5 62.6,522.8" fill="none" stroke="#383838" stroke-width="0.7"/>
<circle cx="60.8" cy="413.8" r="1.3" fill="#7030a0"/>
<circle cx="61.2" cy="420.1" r="1.3" fill="#7030a0"/>
<circle cx="62.6" cy="426.4" r="1.3" fill="#7030a0"/>
<circle cx="55.6" cy="432.4" r="1.3" fill="#1d9b36"/>
<circle cx="63.1" cy="432.4" r="1.3" fill="#c00000"/>
<circle cx="56" cy="433.3" r="1.3" fill="#1d9b36"/>
<circle cx="69" cy="436.6" r="1.3" fill="#1d9b36"/>
<circle cx="64.1" cy="441.4" r="1.3" fill="#c00000"/>
<circle cx="62.6" cy="446.1" r="1.3" fill="#1d9b36"/>
<circle cx="65.9" cy="446.5" r="1.3" fill="#c00000"/>
<circle cx="65.5" cy="448.9" r="1.3" fill="#1d9b36"/>
<circle cx="76" cy="449.3" r="1.3" fill="#1d9b36"/>
<circle cx="74.9" cy="453.1" r="1.3" fill="#1d9b36"/>
<circle cx="75.3" cy="456.3" r="1.3" fill="#1d9b36"/>
<circle cx="65.5" cy="459.7" r="1.3" fill="#1d9b36"/>
<circle cx="67.3" cy="460.1" r="1.3" fill="#c00000"/>
<circle cx="63.1" cy="462.5" r="1.3" fill="#1d9b36"/>
<circle cx="73.5" cy="464.4" r="1.3" fill="#1d9b36"/>
<circle cx="72.1" cy="466.5" r="1.3" fill="#1d9b36"/>
<circle cx="71.5" cy="469.6" r="1.3" fill="#1d9b36"/>
<circle cx="73.9" cy="472.8" r="1.3" fill="#1d9b36"/>
<circle cx="56" cy="475.5" r="1.3" fill="#1d9b36"/>
<circle cx="72.9" cy="478.6" r="1.3" fill="#1d9b36"/>
<circle cx="56.6" cy="480.6" r="1.3" fill="#1d9b36"/>
<circle cx="57.7" cy="483" r="1.3" fill="#1d9b36"/>
<circle cx="63.4" cy="486.2" r="1.3" fill="#1d9b36"/>
<circle cx="59.1" cy="489.4" r="1.3" fill="#1d9b36"/>
<circle cx="66.2" cy="493.9" r="1.3" fill="#c00000"/>
<circle cx="58.4" cy="497" r="1.3" fill="#1d9b36"/>
<circle cx="64.5" cy="497.9" r="1.3" fill="#c00000"/>
<circle cx="64.1" cy="502.7" r="1.3" fill="#c00000"/>
<circle cx="64.8" cy="509.4" r="1.3" fill="#c00000"/>
<circle cx="58.4" cy="515.1" r="1.3" fill="#1d9b36"/>
<circle cx="63.4" cy="516.5" r="1.3" fill="#c00000"/>
<circle cx="62.6" cy="522.8" r="1.3" fill="#c00000"/>
<polyline points="105.2,413.8 107,420.1 110.5,426.4 113.4,432.4 119,432.4 120.1,433.3 120.4,436.6 115,441.4 124,446.1 125.3,446.5 116.9,448.9 118,449.3 121.8,453.1 115.9,456.3 124.3,459.7 128.8,460.1 121.1,462.5 117.3,464.4 122.9,466.5 117.3,469.6 119.3,472.8 111.7,475.5 119,478.6 115.9,480.6 116.9,483 115.5,486.2 116.9,489.4 128.8,493.9 116.2,497 124.9,497.9 125.7,502.7 132.8,509.4 129.1,515.1 125.3,516.5 121.8,522.8" fill="none" stroke="#383838" stroke-width="0.7"/>
<circle cx="105.2" cy="413.8" r="1.3" fill="#7030a0"/>
<circle cx="107" cy="420.1" r="1.3" fill="#7030a0"/>
<circle cx="110.5" cy="426.4" r="1.3" fill="#7030a0"/>
<circle cx="113.4" cy="432.4" r="1.3" fill="#1d9b36"/>
<circle cx="119" cy="432.4" r="1.3" fill="#c00000"/>
<circle cx="120.1" cy="433.3" r="1.3" fill="#1d9b36"/>
<circle cx="120.4" cy="436.6" r="1.3" fill="#1d9b36"/>
<circle cx="115" cy="441.4" r="1.3" fill="#c00000"/>
<circle cx="124" cy="446.1" r="1.3" fill="#1d9b36"/>
<circle cx="125.3" cy="446.5" r="1.3" fill="#c00000"/>
<circle cx="116.9" cy="448.9" r="1.3" fill="#1d9b36"/>
<circle cx="118" cy="449.3" r="1.3" fill="#1d9b36"/>
<circle cx="121.8" cy="453.1" r="1.3" fill="#1d9b36"/>
<circle cx="115.9" cy="456.3" r="1.3" fill="#1d9b36"/>
<circle cx="124.3" cy="459.7" r="1.3" fill="#1d9b36"/>
<circle cx="128.8" cy="460.1" r="1.3" fill="#c00000"/>
<circle cx="121.1" cy="462.5" r="1.3" fill="#1d9b36"/>
<circle cx="117.3" cy="464.4" r="1.3" fill="#1d9b36"/>
<circle cx="122.9" cy="466.5" r="1.3" fill="#1d9b36"/>
<circle cx="117.3" cy="469.6" r="1.3" fill="#1d9b36"/>
<circle cx="119.3" cy="472.8" r="1.3" fill="#1d9b36"/>
<circle cx="111.7" cy="475.5" r="1.3" fill="#1d9b36"/>
<circle cx="119" cy="478.6" r="1.3" fill="#1d9b36"/>
<circle cx="115.9" cy="480.6" r="1.3" fill="#1d9b36"/>
<circle cx="116.9" cy="483" r="1.3" fill="#1d9b36"/>
<circle cx="115.5" cy="486.2" r="1.3" fill="#1d9b36"/>
<circle cx="116.9" cy="489.4" r="1.3" fill="#1d9b36"/>
<circle cx="128.8" cy="493.9" r="1.3" fill="#c00000"/>
<circle cx="116.2" cy="497" r="1.3" fill="#1d9b36"/>
<circle cx="124.9" cy="497.9" r="1.3" fill="#c00000"/>
<circle cx="125.7" cy="502.7" r="1.3" fill="#c00000"/>
<circle cx="132.8" cy="509.4" r="1.3" fill="#c00000"/>
<circle cx="129.1" cy="515.1" r="1.3" fill="#1d9b36"/>
<circle cx="125.3" cy="516.5" r="1.3" fill="#c00000"/>
<circle cx="121.8" cy="522.8" r="1.3" fill="#c00000"/>
<polyline points="155.5,413.8 155.2,420.1 155.2,426.4 170.7,432.4 160.8,432.4 173.1,433.3 175.5,436.6 154.8,441.4 184.8,446.1 161.4,446.5 173.8,448.9 173.5,449.3 173.1,453.1 172.1,456.3 176.9,459.7 158,460.1 167.9,462.5 170.3,464.4 173.1,466.5 172.7,469.6 171.3,472.8 171.7,475.5 172.1,478.6 170.3,480.6 167,483 166.8,486.2 176.9,489.4 162.3,493.9 174.9,497 153.4,497.9 165.1,502.7 161.8,509.4 180.8,515.1 154.1,516.5 162.5,522.8" fill="none" stroke="#383838" stroke-width="0.7"/>
<circle cx="155.5" cy="413.8" r="1.3" fill="#7030a0"/>
<circle cx="155.2" cy="420.1" r="1.3" fill="#7030a0"/>
<circle cx="155.2" cy="426.4" r="1.3" fill="#7030a0"/>
<circle cx="170.7" cy="432.4" r="1.3" fill="#1d9b36"/>
<circle cx="160.8" cy="432.4" r="1.3" fill="#c00000"/>
<circle cx="173.1" cy="433.3" r="1.3" fill="#1d9b36"/>
<circle cx="175.5" cy="436.6" r="1.3" fill="#1d9b36"/>
<circle cx="154.8" cy="441.4" r="1.3" fill="#c00000"/>
<circle cx="184.8" cy="446.1" r="1.3" fill="#1d9b36"/>
<circle cx="161.4" cy="446.5" r="1.3" fill="#c00000"/>
<circle cx="173.8" cy="448.9" r="1.3" fill="#1d9b36"/>
<circle cx="173.5" cy="449.3" r="1.3" fill="#1d9b36"/>
<circle cx="173.1" cy="453.1" r="1.3" fill="#1d9b36"/>
<circle cx="172.1" cy="456.3" r="1.3" fill="#1d9b36"/>
<circle cx="176.9" cy="459.7" r="1.3" fill="#1d9b36"/>
<circle cx="158" cy="460.1" r="1.3" fill="#c00000"/>
<circle cx="167.9" cy="462.5" r="1.3" fill="#1d9b36"/>
<circle cx="170.3" cy="464.4" r="1.3" fill="#1d9b36"/>
<circle cx="173.1" cy="466.5" r="1.3" fill="#1d9b36"/>
<circle cx="172.7" cy="469.6" r="1.3" fill="#1d9b36"/>
<circle cx="171.3" cy="472.8" r="1.3" fill="#1d9b36"/>
<circle cx="171.7" cy="475.5" r="1.3" fill="#1d9b36"/>
<circle cx="172.1" cy="478.6" r="1.3" fill="#1d9b36"/>
<circle cx="170.3" cy="480.6" r="1.3" fill="#1d9b36"/>
<circle cx="167" cy="483" r="1.3" fill="#1d9b36"/>
<circle cx="166.8" cy="486.2" r="1.3" fill="#1d9b36"/>
<circle cx="176.9" cy="489.4" r="1.3" fill="#1d9b36"/>
<circle cx="162.3" cy="493.9" r="1.3" fill="#c00000"/>
<circle cx="174.9" cy="497" r="1.3" fill="#1d9b36"/>
<circle cx="153.4" cy="497.9" r="1.3" fill="#c00000"/>
<circle cx="165.1" cy="502.7" r="1.3" fill="#c00000"/>
<circle cx="161.8" cy="509.4" r="1.3" fill="#c00000"/>
<circle cx="180.8" cy="515.1" r="1.3" fill="#1d9b36"/>
<circle cx="154.1" cy="516.5" r="1.3" fill="#c00000"/>
<circle cx="162.5" cy="522.8" r="1.3" fill="#c00000"/>
<polyline points="220.9,413.8 221.5,420.1 221.9,426.4 223.7,432.4 225.7,432.4 230.7,433.3 229.3,436.6 222.9,441.4 230.3,446.1 226.1,446.5 225.4,448.9 226,449.3 230.3,453.1 223.3,456.3 231.5,459.7 228.9,460.1 225.1,462.5 227,464.4 229.9,466.5 224.7,469.6 227.5,472.8 221.5,475.5 228.9,478.6 226.1,480.6 226.5,483 226.1,486.2 226.8,489.4 228.9,493.9 226.1,497 222.9,497.9 221.2,502.7 226.8,509.4 232.2,515.1 221.9,516.5 220,522.8" fill="none" stroke="#383838" stroke-width="0.7"/>
<circle cx="220.9" cy="413.8" r="1.3" fill="#7030a0"/>
<circle cx="221.5" cy="420.1" r="1.3" fill="#7030a0"/>
<circle cx="221.9" cy="426.4" r="1.3" fill="#7030a0"/>
<circle cx="223.7" cy="432.4" r="1.3" fill="#1d9b36"/>
<circle cx="225.7" cy="432.4" r="1.3" fill="#c00000"/>
<circle cx="230.7" cy="433.3" r="1.3" fill="#1d9b36"/>
<circle cx="229.3" cy="436.6" r="1.3" fill="#1d9b36"/>
<circle cx="222.9" cy="441.4" r="1.3" fill="#c00000"/>
<circle cx="230.3" cy="446.1" r="1.3" fill="#1d9b36"/>
<circle cx="226.1" cy="446.5" r="1.3" fill="#c00000"/>
<circle cx="225.4" cy="448.9" r="1.3" fill="#1d9b36"/>
<circle cx="226" cy="449.3" r="1.3" fill="#1d9b36"/>
<circle cx="230.3" cy="453.1" r="1.3" fill="#1d9b36"/>
<circle cx="223.3" cy="456.3" r="1.3" fill="#1d9b36"/>
<circle cx="231.5" cy="459.7" r="1.3" fill="#1d9b36"/>
<circle cx="228.9" cy="460.1" r="1.3" fill="#c00000"/>
<circle cx="225.1" cy="462.5" r="1.3" fill="#1d9b36"/>
<circle cx="227" cy="464.4" r="1.3" fill="#1d9b36"/>
<circle cx="229.9" cy="466.5" r="1.3" fill="#1d9b36"/>
<circle cx="224.7" cy="469.6" r="1.3" fill="#1d9b36"/>
<circle cx="227.5" cy="472.8" r="1.3" fill="#1d9b36"/>
<circle cx="221.5" cy="475.5" r="1.3" fill="#1d9b36"/>
<circle cx="228.9" cy="478.6" r="1.3" fill="#1d9b36"/>
<circle cx="226.1" cy="480.6" r="1.3" fill="#1d9b36"/>
<circle cx="226.5" cy="483" r="1.3" fill="#1d9b36"/>
<circle cx="226.1" cy="486.2" r="1.3" fill="#1d9b36"/>
<circle cx="226.8" cy="489.4" r="1.3" fill="#1d9b36"/>
<circle cx="228.9" cy="493.9" r="1.3" fill="#c00000"/>
<circle cx="226.1" cy="497" r="1.3" fill="#1d9b36"/>
<circle cx="222.9" cy="497.9" r="1.3" fill="#c00000"/>
<circle cx="221.2" cy="502.7" r="1.3" fill="#c00000"/>
<circle cx="226.8" cy="509.4" r="1.3" fill="#c00000"/>
<circle cx="232.2" cy="515.1" r="1.3" fill="#1d9b36"/>
<circle cx="221.9" cy="516.5" r="1.3" fill="#c00000"/>
<circle cx="220" cy="522.8" r="1.3" fill="#c00000"/>
<polyline points="256.6,413.8 260.4,420.1 258.4,426.4 274.9,432.4 264.3,432.4 282.9,433.3 282.9,436.6 260.1,441.4 281.9,446.1 267.1,446.5 282.9,448.9 286.1,449.3 282.3,453.1 283.5,456.3 269.2,459.7 266,460.1 282.9,462.5 284.7,464.4 280.5,466.5 284.7,469.6 282.9,472.8 282.9,475.5 279.1,478.6 279.8,480.6 283.7,483 282.3,486.2 282.3,489.4 264,493.9 279.8,497 259,497.9 259.8,502.7 263.2,509.4 276.7,515.1 256.1,516.5 258.7,522.8" fill="none" stroke="#383838" stroke-width="0.7"/>
<circle cx="256.6" cy="413.8" r="1.3" fill="#7030a0"/>
<circle cx="260.4" cy="420.1" r="1.3" fill="#7030a0"/>
<circle cx="258.4" cy="426.4" r="1.3" fill="#7030a0"/>
<circle cx="274.9" cy="432.4" r="1.3" fill="#1d9b36"/>
<circle cx="264.3" cy="432.4" r="1.3" fill="#c00000"/>
<circle cx="282.9" cy="433.3" r="1.3" fill="#1d9b36"/>
<circle cx="282.9" cy="436.6" r="1.3" fill="#1d9b36"/>
<circle cx="260.1" cy="441.4" r="1.3" fill="#c00000"/>
<circle cx="281.9" cy="446.1" r="1.3" fill="#1d9b36"/>
<circle cx="267.1" cy="446.5" r="1.3" fill="#c00000"/>
<circle cx="282.9" cy="448.9" r="1.3" fill="#1d9b36"/>
<circle cx="286.1" cy="449.3" r="1.3" fill="#1d9b36"/>
<circle cx="282.3" cy="453.1" r="1.3" fill="#1d9b36"/>
<circle cx="283.5" cy="456.3" r="1.3" fill="#1d9b36"/>
<circle cx="269.2" cy="459.7" r="1.3" fill="#1d9b36"/>
<circle cx="266" cy="460.1" r="1.3" fill="#c00000"/>
<circle cx="282.9" cy="462.5" r="1.3" fill="#1d9b36"/>
<circle cx="284.7" cy="464.4" r="1.3" fill="#1d9b36"/>
<circle cx="280.5" cy="466.5" r="1.3" fill="#1d9b36"/>
<circle cx="284.7" cy="469.6" r="1.3" fill="#1d9b36"/>
<circle cx="282.9" cy="472.8" r="1.3" fill="#1d9b36"/>
<circle cx="282.9" cy="475.5" r="1.3" fill="#1d9b36"/>
<circle cx="279.1" cy="478.6" r="1.3" fill="#1d9b36"/>
<circle cx="279.8" cy="480.6" r="1.3" fill="#1d9b36"/>
<circle cx="283.7" cy="483" r="1.3" fill="#1d9b36"/>
<circle cx="282.3" cy="486.2" r="1.3" fill="#1d9b36"/>
<circle cx="282.3" cy="489.4" r="1.3" fill="#1d9b36"/>
<circle cx="264" cy="493.9" r="1.3" fill="#c00000"/>
<circle cx="279.8" cy="497" r="1.3" fill="#1d9b36"/>
<circle cx="259" cy="497.9" r="1.3" fill="#c00000"/>
<circle cx="259.8" cy="502.7" r="1.3" fill="#c00000"/>
<circle cx="263.2" cy="509.4" r="1.3" fill="#c00000"/>
<circle cx="276.7" cy="515.1" r="1.3" fill="#1d9b36"/>
<circle cx="256.1" cy="516.5" r="1.3" fill="#c00000"/>
<circle cx="258.7" cy="522.8" r="1.3" fill="#c00000"/>
<polyline points="310.7,413.8 314.9,420.1 313.8,426.4 326.2,432.4 328.7,432.4 327.6,433.3 330.1,436.6 322.2,441.4 333.9,446.1 329.3,446.5 327.9,448.9 331.5,449.3 330.7,453.1 330.7,456.3 331.1,459.7 329,460.1 330.4,462.5 329.5,464.4 328.7,466.5 329.3,469.6 330.1,472.8 322.2,475.5 330.7,478.6 328.7,480.6 329,483 329.3,486.2 328.3,489.4 327.6,493.9 328.7,497 319.8,497.9 322.2,502.7 326.9,509.4 331.1,515.1 314.9,516.5 321.2,522.8" fill="none" stroke="#383838" stroke-width="0.7"/>
<circle cx="310.7" cy="413.8" r="1.3" fill="#7030a0"/>
<circle cx="314.9" cy="420.1" r="1.3" fill="#7030a0"/>
<circle cx="313.8" cy="426.4" r="1.3" fill="#7030a0"/>
<circle cx="326.2" cy="432.4" r="1.3" fill="#1d9b36"/>
<circle cx="328.7" cy="432.4" r="1.3" fill="#c00000"/>
<circle cx="327.6" cy="433.3" r="1.3" fill="#1d9b36"/>
<circle cx="330.1" cy="436.6" r="1.3" fill="#1d9b36"/>
<circle cx="322.2" cy="441.4" r="1.3" fill="#c00000"/>
<circle cx="333.9" cy="446.1" r="1.3" fill="#1d9b36"/>
<circle cx="329.3" cy="446.5" r="1.3" fill="#c00000"/>
<circle cx="327.9" cy="448.9" r="1.3" fill="#1d9b36"/>
<circle cx="331.5" cy="449.3" r="1.3" fill="#1d9b36"/>
<circle cx="330.7" cy="453.1" r="1.3" fill="#1d9b36"/>
<circle cx="330.7" cy="456.3" r="1.3" fill="#1d9b36"/>
<circle cx="331.1" cy="459.7" r="1.3" fill="#1d9b36"/>
<circle cx="329" cy="460.1" r="1.3" fill="#c00000"/>
<circle cx="330.4" cy="462.5" r="1.3" fill="#1d9b36"/>
<circle cx="329.5" cy="464.4" r="1.3" fill="#1d9b36"/>
<circle cx="328.7" cy="466.5" r="1.3" fill="#1d9b36"/>
<circle cx="329.3" cy="469.6" r="1.3" fill="#1d9b36"/>
<circle cx="330.1" cy="472.8" r="1.3" fill="#1d9b36"/>
<circle cx="322.2" cy="475.5" r="1.3" fill="#1d9b36"/>
<circle cx="330.7" cy="478.6" r="1.3" fill="#1d9b36"/>
<circle cx="328.7" cy="480.6" r="1.3" fill="#1d9b36"/>
<circle cx="329" cy="483" r="1.3" fill="#1d9b36"/>
<circle cx="329.3" cy="486.2" r="1.3" fill="#1d9b36"/>
<circle cx="328.3" cy="489.4" r="1.3" fill="#1d9b36"/>
<circle cx="327.6" cy="493.9" r="1.3" fill="#c00000"/>
<circle cx="328.7" cy="497" r="1.3" fill="#1d9b36"/>
<circle cx="319.8" cy="497.9" r="1.3" fill="#c00000"/>
<circle cx="322.2" cy="502.7" r="1.3" fill="#c00000"/>
<circle cx="326.9" cy="509.4" r="1.3" fill="#c00000"/>
<circle cx="331.1" cy="515.1" r="1.3" fill="#1d9b36"/>
<circle cx="314.9" cy="516.5" r="1.3" fill="#c00000"/>
<circle cx="321.2" cy="522.8" r="1.3" fill="#c00000"/>
<rect x="3.8" y="380.9" width="14.5" height="14.3" fill="#fff" stroke="#4a4a4a" stroke-width="0.9"/>
<text x="11.35" y="391.7" font-size="10.2" fill="#1a1a1a" stroke="#1a1a1a" stroke-width="0.25" text-anchor="middle">C</text>
<line x1="20.8" y1="398" x2="20.8" y2="525.2" stroke="#3a3a3a" stroke-width="0.9"/>
<path d="M19.2,523.8 L22.4,523.8 L20.8,528.2 Z" fill="#262626"/>
<text transform="translate(13.2,463) rotate(-90)" x="-26.8" font-size="6.3" font-weight="bold" fill="#1a1a1a" textLength="53.6" lengthAdjust="spacingAndGlyphs">Drill core ACL 13-05</text>
<text transform="translate(25.5,463) rotate(-90)" font-size="5.5" font-style="italic" fill="#333" stroke="#333" stroke-width="0.1" text-anchor="middle">Depth from surface (m)</text>
<circle cx="66.5" cy="543.6" r="1.0" fill="#7030a0"/>
<text x="71.3" y="545.7" font-size="5.3" fill="#262626" stroke="#262626" stroke-width="0.05" textLength="24.0" lengthAdjust="spacingAndGlyphs">Mica schist</text>
<circle cx="114.1" cy="543.5" r="1.0" fill="#c00000"/>
<text x="118.6" y="545.7" font-size="5.3" fill="#262626" stroke="#262626" stroke-width="0.05" textLength="45.4" lengthAdjust="spacingAndGlyphs">Foliated granodiorite</text>
<circle cx="185.6" cy="543.5" r="1.0" fill="#1d9b36"/>
<text x="190.3" y="545.7" font-size="5.3" fill="#262626" stroke="#262626" stroke-width="0.05" textLength="49.4" lengthAdjust="spacingAndGlyphs">Spodumene pegmatite</text>
<line x1="254.4" y1="539.8" x2="264.2" y2="539.8" stroke="#555" stroke-width="0.85" stroke-dasharray="1.1 1.7"/>
<text x="270.1" y="541.1" font-size="5.3" fill="#262626" stroke="#262626" stroke-width="0.05" textLength="27.4" lengthAdjust="spacingAndGlyphs">Hanging wall</text>
<line x1="254.4" y1="546.3" x2="264.2" y2="546.3" stroke="#767676" stroke-width="0.8"/>
<text x="270.1" y="547.9" font-size="5.3" fill="#262626" stroke="#262626" stroke-width="0.05" textLength="18.4" lengthAdjust="spacingAndGlyphs">Footwall</text>
</svg>
</body></html>
